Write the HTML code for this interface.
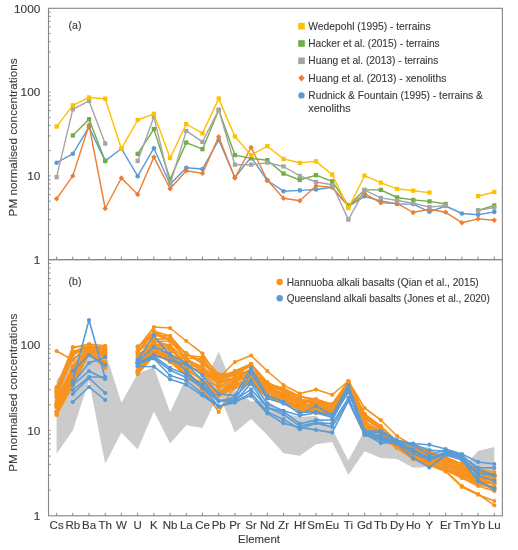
<!DOCTYPE html>
<html><head><meta charset="utf-8"><style>
html,body{margin:0;padding:0;background:#fff;}
svg{display:block;will-change:transform;}
text{font-family:"Liberation Sans",sans-serif;fill:#3a3a3a;stroke:#3a3a3a;stroke-width:0.12px;}
</style></head><body>
<svg width="518" height="550" viewBox="0 0 518 550">
<rect width="518" height="550" fill="#fff"/>
<rect x="48.5" y="8.3" width="453.88" height="251.35" fill="none" stroke="#858585" stroke-width="1.1"/>
<line x1="48.5" y1="234.43" x2="50.7" y2="234.43" stroke="#858585" stroke-width="0.9"/>
<line x1="48.5" y1="219.68" x2="50.7" y2="219.68" stroke="#858585" stroke-width="0.9"/>
<line x1="48.5" y1="209.21" x2="50.7" y2="209.21" stroke="#858585" stroke-width="0.9"/>
<line x1="48.5" y1="201.09" x2="50.7" y2="201.09" stroke="#858585" stroke-width="0.9"/>
<line x1="48.5" y1="194.45" x2="50.7" y2="194.45" stroke="#858585" stroke-width="0.9"/>
<line x1="48.5" y1="188.84" x2="50.7" y2="188.84" stroke="#858585" stroke-width="0.9"/>
<line x1="48.5" y1="183.99" x2="50.7" y2="183.99" stroke="#858585" stroke-width="0.9"/>
<line x1="48.5" y1="179.70" x2="50.7" y2="179.70" stroke="#858585" stroke-width="0.9"/>
<line x1="48.5" y1="175.87" x2="50.7" y2="175.87" stroke="#858585" stroke-width="0.9"/>
<line x1="48.5" y1="150.65" x2="50.7" y2="150.65" stroke="#858585" stroke-width="0.9"/>
<line x1="48.5" y1="135.89" x2="50.7" y2="135.89" stroke="#858585" stroke-width="0.9"/>
<line x1="48.5" y1="125.42" x2="50.7" y2="125.42" stroke="#858585" stroke-width="0.9"/>
<line x1="48.5" y1="117.30" x2="50.7" y2="117.30" stroke="#858585" stroke-width="0.9"/>
<line x1="48.5" y1="110.67" x2="50.7" y2="110.67" stroke="#858585" stroke-width="0.9"/>
<line x1="48.5" y1="105.06" x2="50.7" y2="105.06" stroke="#858585" stroke-width="0.9"/>
<line x1="48.5" y1="100.20" x2="50.7" y2="100.20" stroke="#858585" stroke-width="0.9"/>
<line x1="48.5" y1="95.92" x2="50.7" y2="95.92" stroke="#858585" stroke-width="0.9"/>
<line x1="48.5" y1="92.08" x2="50.7" y2="92.08" stroke="#858585" stroke-width="0.9"/>
<line x1="48.5" y1="66.86" x2="50.7" y2="66.86" stroke="#858585" stroke-width="0.9"/>
<line x1="48.5" y1="52.11" x2="50.7" y2="52.11" stroke="#858585" stroke-width="0.9"/>
<line x1="48.5" y1="41.64" x2="50.7" y2="41.64" stroke="#858585" stroke-width="0.9"/>
<line x1="48.5" y1="33.52" x2="50.7" y2="33.52" stroke="#858585" stroke-width="0.9"/>
<line x1="48.5" y1="26.89" x2="50.7" y2="26.89" stroke="#858585" stroke-width="0.9"/>
<line x1="48.5" y1="21.28" x2="50.7" y2="21.28" stroke="#858585" stroke-width="0.9"/>
<line x1="48.5" y1="16.42" x2="50.7" y2="16.42" stroke="#858585" stroke-width="0.9"/>
<line x1="48.5" y1="12.13" x2="50.7" y2="12.13" stroke="#858585" stroke-width="0.9"/>
<line x1="56.61" y1="259.65" x2="56.61" y2="256.65" stroke="#858585" stroke-width="1"/>
<line x1="72.81" y1="259.65" x2="72.81" y2="256.65" stroke="#858585" stroke-width="1"/>
<line x1="89.03" y1="259.65" x2="89.03" y2="256.65" stroke="#858585" stroke-width="1"/>
<line x1="105.23" y1="259.65" x2="105.23" y2="256.65" stroke="#858585" stroke-width="1"/>
<line x1="121.45" y1="259.65" x2="121.45" y2="256.65" stroke="#858585" stroke-width="1"/>
<line x1="137.66" y1="259.65" x2="137.66" y2="256.65" stroke="#858585" stroke-width="1"/>
<line x1="153.87" y1="259.65" x2="153.87" y2="256.65" stroke="#858585" stroke-width="1"/>
<line x1="170.07" y1="259.65" x2="170.07" y2="256.65" stroke="#858585" stroke-width="1"/>
<line x1="186.28" y1="259.65" x2="186.28" y2="256.65" stroke="#858585" stroke-width="1"/>
<line x1="202.50" y1="259.65" x2="202.50" y2="256.65" stroke="#858585" stroke-width="1"/>
<line x1="218.71" y1="259.65" x2="218.71" y2="256.65" stroke="#858585" stroke-width="1"/>
<line x1="234.92" y1="259.65" x2="234.92" y2="256.65" stroke="#858585" stroke-width="1"/>
<line x1="251.12" y1="259.65" x2="251.12" y2="256.65" stroke="#858585" stroke-width="1"/>
<line x1="267.34" y1="259.65" x2="267.34" y2="256.65" stroke="#858585" stroke-width="1"/>
<line x1="283.55" y1="259.65" x2="283.55" y2="256.65" stroke="#858585" stroke-width="1"/>
<line x1="299.75" y1="259.65" x2="299.75" y2="256.65" stroke="#858585" stroke-width="1"/>
<line x1="315.97" y1="259.65" x2="315.97" y2="256.65" stroke="#858585" stroke-width="1"/>
<line x1="332.18" y1="259.65" x2="332.18" y2="256.65" stroke="#858585" stroke-width="1"/>
<line x1="348.38" y1="259.65" x2="348.38" y2="256.65" stroke="#858585" stroke-width="1"/>
<line x1="364.60" y1="259.65" x2="364.60" y2="256.65" stroke="#858585" stroke-width="1"/>
<line x1="380.81" y1="259.65" x2="380.81" y2="256.65" stroke="#858585" stroke-width="1"/>
<line x1="397.02" y1="259.65" x2="397.02" y2="256.65" stroke="#858585" stroke-width="1"/>
<line x1="413.23" y1="259.65" x2="413.23" y2="256.65" stroke="#858585" stroke-width="1"/>
<line x1="429.44" y1="259.65" x2="429.44" y2="256.65" stroke="#858585" stroke-width="1"/>
<line x1="445.65" y1="259.65" x2="445.65" y2="256.65" stroke="#858585" stroke-width="1"/>
<line x1="461.86" y1="259.65" x2="461.86" y2="256.65" stroke="#858585" stroke-width="1"/>
<line x1="478.06" y1="259.65" x2="478.06" y2="256.65" stroke="#858585" stroke-width="1"/>
<line x1="494.28" y1="259.65" x2="494.28" y2="256.65" stroke="#858585" stroke-width="1"/>
<polyline points="56.6,162.7 72.8,153.8 89.0,127.1 105.2,160.9 121.4,148.7 137.7,176.2 153.9,148.2 170.1,184.3 186.3,167.8 202.5,169.0 218.7,139.8 234.9,177.5 251.1,157.1 267.3,180.5 283.5,191.2 299.8,190.4 316.0,189.5 332.2,187.3 348.4,206.4 364.6,196.3 380.8,201.0 397.0,204.0 413.2,204.1 429.4,211.8 445.6,206.0 461.9,213.5 478.1,214.8 494.3,211.9" fill="none" stroke="#5B9BD5" stroke-width="1.4" stroke-linejoin="round"/>
<circle cx="56.6" cy="162.7" r="2.3" fill="#5B9BD5"/>
<circle cx="72.8" cy="153.8" r="2.3" fill="#5B9BD5"/>
<circle cx="89.0" cy="127.1" r="2.3" fill="#5B9BD5"/>
<circle cx="105.2" cy="160.9" r="2.3" fill="#5B9BD5"/>
<circle cx="121.4" cy="148.7" r="2.3" fill="#5B9BD5"/>
<circle cx="137.7" cy="176.2" r="2.3" fill="#5B9BD5"/>
<circle cx="153.9" cy="148.2" r="2.3" fill="#5B9BD5"/>
<circle cx="170.1" cy="184.3" r="2.3" fill="#5B9BD5"/>
<circle cx="186.3" cy="167.8" r="2.3" fill="#5B9BD5"/>
<circle cx="202.5" cy="169.0" r="2.3" fill="#5B9BD5"/>
<circle cx="218.7" cy="139.8" r="2.3" fill="#5B9BD5"/>
<circle cx="234.9" cy="177.5" r="2.3" fill="#5B9BD5"/>
<circle cx="251.1" cy="157.1" r="2.3" fill="#5B9BD5"/>
<circle cx="267.3" cy="180.5" r="2.3" fill="#5B9BD5"/>
<circle cx="283.5" cy="191.2" r="2.3" fill="#5B9BD5"/>
<circle cx="299.8" cy="190.4" r="2.3" fill="#5B9BD5"/>
<circle cx="316.0" cy="189.5" r="2.3" fill="#5B9BD5"/>
<circle cx="332.2" cy="187.3" r="2.3" fill="#5B9BD5"/>
<circle cx="348.4" cy="206.4" r="2.3" fill="#5B9BD5"/>
<circle cx="364.6" cy="196.3" r="2.3" fill="#5B9BD5"/>
<circle cx="380.8" cy="201.0" r="2.3" fill="#5B9BD5"/>
<circle cx="397.0" cy="204.0" r="2.3" fill="#5B9BD5"/>
<circle cx="413.2" cy="204.1" r="2.3" fill="#5B9BD5"/>
<circle cx="429.4" cy="211.8" r="2.3" fill="#5B9BD5"/>
<circle cx="445.6" cy="206.0" r="2.3" fill="#5B9BD5"/>
<circle cx="461.9" cy="213.5" r="2.3" fill="#5B9BD5"/>
<circle cx="478.1" cy="214.8" r="2.3" fill="#5B9BD5"/>
<circle cx="494.3" cy="211.9" r="2.3" fill="#5B9BD5"/>
<polyline points="56.6,198.8 72.8,175.9 89.0,125.0 105.2,208.5 121.4,178.0 137.7,194.5 153.9,157.1 170.1,188.7 186.3,170.8 202.5,173.4 218.7,136.7 234.9,178.0 251.1,147.4 267.3,180.0 283.5,198.3 299.8,200.8 316.0,185.9 332.2,187.3 348.4,206.4 364.6,193.7 380.8,202.9 397.0,203.4 413.2,212.5 429.4,209.2 445.6,212.3 461.9,222.7 478.1,218.9 494.3,220.3" fill="none" stroke="#ED7D31" stroke-width="1.4" stroke-linejoin="round"/>
<path d="M56.6 196.1L59.3 198.8L56.6 201.5L53.9 198.8Z" fill="#ED7D31"/>
<path d="M72.8 173.2L75.5 175.9L72.8 178.6L70.1 175.9Z" fill="#ED7D31"/>
<path d="M89.0 122.3L91.7 125.0L89.0 127.7L86.3 125.0Z" fill="#ED7D31"/>
<path d="M105.2 205.8L107.9 208.5L105.2 211.2L102.5 208.5Z" fill="#ED7D31"/>
<path d="M121.4 175.3L124.1 178.0L121.4 180.7L118.7 178.0Z" fill="#ED7D31"/>
<path d="M137.7 191.8L140.4 194.5L137.7 197.2L135.0 194.5Z" fill="#ED7D31"/>
<path d="M153.9 154.4L156.6 157.1L153.9 159.8L151.2 157.1Z" fill="#ED7D31"/>
<path d="M170.1 186.0L172.8 188.7L170.1 191.4L167.4 188.7Z" fill="#ED7D31"/>
<path d="M186.3 168.1L189.0 170.8L186.3 173.5L183.6 170.8Z" fill="#ED7D31"/>
<path d="M202.5 170.7L205.2 173.4L202.5 176.1L199.8 173.4Z" fill="#ED7D31"/>
<path d="M218.7 134.0L221.4 136.7L218.7 139.4L216.0 136.7Z" fill="#ED7D31"/>
<path d="M234.9 175.3L237.6 178.0L234.9 180.7L232.2 178.0Z" fill="#ED7D31"/>
<path d="M251.1 144.7L253.8 147.4L251.1 150.1L248.4 147.4Z" fill="#ED7D31"/>
<path d="M267.3 177.3L270.0 180.0L267.3 182.7L264.6 180.0Z" fill="#ED7D31"/>
<path d="M283.5 195.6L286.2 198.3L283.5 201.0L280.8 198.3Z" fill="#ED7D31"/>
<path d="M299.8 198.1L302.5 200.8L299.8 203.5L297.1 200.8Z" fill="#ED7D31"/>
<path d="M316.0 183.2L318.7 185.9L316.0 188.6L313.3 185.9Z" fill="#ED7D31"/>
<path d="M332.2 184.6L334.9 187.3L332.2 190.0L329.5 187.3Z" fill="#ED7D31"/>
<path d="M348.4 203.7L351.1 206.4L348.4 209.1L345.7 206.4Z" fill="#ED7D31"/>
<path d="M364.6 191.0L367.3 193.7L364.6 196.4L361.9 193.7Z" fill="#ED7D31"/>
<path d="M380.8 200.2L383.5 202.9L380.8 205.6L378.1 202.9Z" fill="#ED7D31"/>
<path d="M397.0 200.7L399.7 203.4L397.0 206.1L394.3 203.4Z" fill="#ED7D31"/>
<path d="M413.2 209.8L415.9 212.5L413.2 215.2L410.5 212.5Z" fill="#ED7D31"/>
<path d="M429.4 206.5L432.1 209.2L429.4 211.9L426.7 209.2Z" fill="#ED7D31"/>
<path d="M445.6 209.6L448.3 212.3L445.6 215.0L442.9 212.3Z" fill="#ED7D31"/>
<path d="M461.9 220.0L464.6 222.7L461.9 225.4L459.2 222.7Z" fill="#ED7D31"/>
<path d="M478.1 216.2L480.8 218.9L478.1 221.6L475.4 218.9Z" fill="#ED7D31"/>
<path d="M494.3 217.6L497.0 220.3L494.3 223.0L491.6 220.3Z" fill="#ED7D31"/>
<polyline points="72.8,135.5 89.0,119.3 105.2,160.9" fill="none" stroke="#70AD47" stroke-width="1.4" stroke-linejoin="round"/>
<polyline points="137.7,153.8 153.9,129.1 170.1,179.2 186.3,142.6 202.5,149.2 218.7,110.0 234.9,155.1 251.1,158.4 267.3,160.2 283.5,173.6 299.8,180.0 316.0,175.2 332.2,181.4 348.4,205.4 364.6,189.9 380.8,189.9 397.0,197.5 413.2,199.9 429.4,201.4 445.6,204.0" fill="none" stroke="#70AD47" stroke-width="1.4" stroke-linejoin="round"/>
<polyline points="478.1,210.3 494.3,205.5" fill="none" stroke="#70AD47" stroke-width="1.4" stroke-linejoin="round"/>
<rect x="70.7" y="133.3" width="4.3" height="4.3" fill="#70AD47"/>
<rect x="86.9" y="117.1" width="4.3" height="4.3" fill="#70AD47"/>
<rect x="103.1" y="158.8" width="4.3" height="4.3" fill="#70AD47"/>
<rect x="135.5" y="151.7" width="4.3" height="4.3" fill="#70AD47"/>
<rect x="151.7" y="126.9" width="4.3" height="4.3" fill="#70AD47"/>
<rect x="167.9" y="177.0" width="4.3" height="4.3" fill="#70AD47"/>
<rect x="184.1" y="140.4" width="4.3" height="4.3" fill="#70AD47"/>
<rect x="200.3" y="147.0" width="4.3" height="4.3" fill="#70AD47"/>
<rect x="216.6" y="107.8" width="4.3" height="4.3" fill="#70AD47"/>
<rect x="232.8" y="152.9" width="4.3" height="4.3" fill="#70AD47"/>
<rect x="249.0" y="156.2" width="4.3" height="4.3" fill="#70AD47"/>
<rect x="265.2" y="158.0" width="4.3" height="4.3" fill="#70AD47"/>
<rect x="281.4" y="171.4" width="4.3" height="4.3" fill="#70AD47"/>
<rect x="297.6" y="177.8" width="4.3" height="4.3" fill="#70AD47"/>
<rect x="313.8" y="173.0" width="4.3" height="4.3" fill="#70AD47"/>
<rect x="330.0" y="179.2" width="4.3" height="4.3" fill="#70AD47"/>
<rect x="346.2" y="203.2" width="4.3" height="4.3" fill="#70AD47"/>
<rect x="362.4" y="187.8" width="4.3" height="4.3" fill="#70AD47"/>
<rect x="378.7" y="187.8" width="4.3" height="4.3" fill="#70AD47"/>
<rect x="394.9" y="195.3" width="4.3" height="4.3" fill="#70AD47"/>
<rect x="411.1" y="197.8" width="4.3" height="4.3" fill="#70AD47"/>
<rect x="427.3" y="199.2" width="4.3" height="4.3" fill="#70AD47"/>
<rect x="443.5" y="201.8" width="4.3" height="4.3" fill="#70AD47"/>
<rect x="475.9" y="208.2" width="4.3" height="4.3" fill="#70AD47"/>
<rect x="492.1" y="203.3" width="4.3" height="4.3" fill="#70AD47"/>
<polyline points="56.6,177.2 72.8,109.3 89.0,100.9 105.2,143.6" fill="none" stroke="#A5A5A5" stroke-width="1.4" stroke-linejoin="round"/>
<polyline points="137.7,160.9 153.9,116.9 170.1,184.3 186.3,130.9 202.5,141.8 218.7,109.8 234.9,164.7 251.1,164.7 267.3,162.7 283.5,166.5 299.8,175.9 316.0,182.0 332.2,184.8 348.4,219.6 364.6,190.1 380.8,197.9 397.0,200.5 413.2,203.3 429.4,207.1 445.6,205.5" fill="none" stroke="#A5A5A5" stroke-width="1.4" stroke-linejoin="round"/>
<polyline points="478.1,210.3 494.3,207.6" fill="none" stroke="#A5A5A5" stroke-width="1.4" stroke-linejoin="round"/>
<rect x="54.5" y="175.0" width="4.3" height="4.3" fill="#A5A5A5"/>
<rect x="70.7" y="107.1" width="4.3" height="4.3" fill="#A5A5A5"/>
<rect x="86.9" y="98.8" width="4.3" height="4.3" fill="#A5A5A5"/>
<rect x="103.1" y="141.4" width="4.3" height="4.3" fill="#A5A5A5"/>
<rect x="135.5" y="158.8" width="4.3" height="4.3" fill="#A5A5A5"/>
<rect x="151.7" y="114.8" width="4.3" height="4.3" fill="#A5A5A5"/>
<rect x="167.9" y="182.2" width="4.3" height="4.3" fill="#A5A5A5"/>
<rect x="184.1" y="128.8" width="4.3" height="4.3" fill="#A5A5A5"/>
<rect x="200.3" y="139.7" width="4.3" height="4.3" fill="#A5A5A5"/>
<rect x="216.6" y="107.6" width="4.3" height="4.3" fill="#A5A5A5"/>
<rect x="232.8" y="162.5" width="4.3" height="4.3" fill="#A5A5A5"/>
<rect x="249.0" y="162.5" width="4.3" height="4.3" fill="#A5A5A5"/>
<rect x="265.2" y="160.5" width="4.3" height="4.3" fill="#A5A5A5"/>
<rect x="281.4" y="164.3" width="4.3" height="4.3" fill="#A5A5A5"/>
<rect x="297.6" y="173.8" width="4.3" height="4.3" fill="#A5A5A5"/>
<rect x="313.8" y="179.8" width="4.3" height="4.3" fill="#A5A5A5"/>
<rect x="330.0" y="182.7" width="4.3" height="4.3" fill="#A5A5A5"/>
<rect x="346.2" y="217.4" width="4.3" height="4.3" fill="#A5A5A5"/>
<rect x="362.4" y="187.9" width="4.3" height="4.3" fill="#A5A5A5"/>
<rect x="378.7" y="195.8" width="4.3" height="4.3" fill="#A5A5A5"/>
<rect x="394.9" y="198.3" width="4.3" height="4.3" fill="#A5A5A5"/>
<rect x="411.1" y="201.2" width="4.3" height="4.3" fill="#A5A5A5"/>
<rect x="427.3" y="204.9" width="4.3" height="4.3" fill="#A5A5A5"/>
<rect x="443.5" y="203.3" width="4.3" height="4.3" fill="#A5A5A5"/>
<rect x="475.9" y="208.2" width="4.3" height="4.3" fill="#A5A5A5"/>
<rect x="492.1" y="205.4" width="4.3" height="4.3" fill="#A5A5A5"/>
<polyline points="56.6,126.6 72.8,105.4 89.0,97.5 105.2,98.7 121.4,148.7 137.7,120.0 153.9,113.8 170.1,158.1 186.3,124.0 202.5,133.4 218.7,98.6 234.9,136.5 251.1,155.1 267.3,146.2 283.5,158.9 299.8,162.8 316.0,161.4 332.2,174.6 348.4,208.1 364.6,175.7 380.8,182.7 397.0,188.8 413.2,190.7 429.4,192.6" fill="none" stroke="#FFC000" stroke-width="1.4" stroke-linejoin="round"/>
<polyline points="478.1,196.2 494.3,192.0" fill="none" stroke="#FFC000" stroke-width="1.4" stroke-linejoin="round"/>
<rect x="54.5" y="124.4" width="4.3" height="4.3" fill="#FFC000"/>
<rect x="70.7" y="103.2" width="4.3" height="4.3" fill="#FFC000"/>
<rect x="86.9" y="95.3" width="4.3" height="4.3" fill="#FFC000"/>
<rect x="103.1" y="96.5" width="4.3" height="4.3" fill="#FFC000"/>
<rect x="119.3" y="146.5" width="4.3" height="4.3" fill="#FFC000"/>
<rect x="135.5" y="117.8" width="4.3" height="4.3" fill="#FFC000"/>
<rect x="151.7" y="111.6" width="4.3" height="4.3" fill="#FFC000"/>
<rect x="167.9" y="155.9" width="4.3" height="4.3" fill="#FFC000"/>
<rect x="184.1" y="121.8" width="4.3" height="4.3" fill="#FFC000"/>
<rect x="200.3" y="131.2" width="4.3" height="4.3" fill="#FFC000"/>
<rect x="216.6" y="96.4" width="4.3" height="4.3" fill="#FFC000"/>
<rect x="232.8" y="134.3" width="4.3" height="4.3" fill="#FFC000"/>
<rect x="249.0" y="152.9" width="4.3" height="4.3" fill="#FFC000"/>
<rect x="265.2" y="144.0" width="4.3" height="4.3" fill="#FFC000"/>
<rect x="281.4" y="156.8" width="4.3" height="4.3" fill="#FFC000"/>
<rect x="297.6" y="160.7" width="4.3" height="4.3" fill="#FFC000"/>
<rect x="313.8" y="159.2" width="4.3" height="4.3" fill="#FFC000"/>
<rect x="330.0" y="172.4" width="4.3" height="4.3" fill="#FFC000"/>
<rect x="346.2" y="205.9" width="4.3" height="4.3" fill="#FFC000"/>
<rect x="362.4" y="173.5" width="4.3" height="4.3" fill="#FFC000"/>
<rect x="378.7" y="180.5" width="4.3" height="4.3" fill="#FFC000"/>
<rect x="394.9" y="186.7" width="4.3" height="4.3" fill="#FFC000"/>
<rect x="411.1" y="188.5" width="4.3" height="4.3" fill="#FFC000"/>
<rect x="427.3" y="190.4" width="4.3" height="4.3" fill="#FFC000"/>
<rect x="475.9" y="194.0" width="4.3" height="4.3" fill="#FFC000"/>
<rect x="492.1" y="189.8" width="4.3" height="4.3" fill="#FFC000"/>
<rect x="48.5" y="259.65" width="453.88" height="256.15" fill="none" stroke="#858585" stroke-width="1.1"/>
<line x1="48.5" y1="490.10" x2="50.7" y2="490.10" stroke="#858585" stroke-width="0.9"/>
<line x1="48.5" y1="475.06" x2="50.7" y2="475.06" stroke="#858585" stroke-width="0.9"/>
<line x1="48.5" y1="464.39" x2="50.7" y2="464.39" stroke="#858585" stroke-width="0.9"/>
<line x1="48.5" y1="456.12" x2="50.7" y2="456.12" stroke="#858585" stroke-width="0.9"/>
<line x1="48.5" y1="449.36" x2="50.7" y2="449.36" stroke="#858585" stroke-width="0.9"/>
<line x1="48.5" y1="443.64" x2="50.7" y2="443.64" stroke="#858585" stroke-width="0.9"/>
<line x1="48.5" y1="438.69" x2="50.7" y2="438.69" stroke="#858585" stroke-width="0.9"/>
<line x1="48.5" y1="434.32" x2="50.7" y2="434.32" stroke="#858585" stroke-width="0.9"/>
<line x1="48.5" y1="430.42" x2="50.7" y2="430.42" stroke="#858585" stroke-width="0.9"/>
<line x1="48.5" y1="404.71" x2="50.7" y2="404.71" stroke="#858585" stroke-width="0.9"/>
<line x1="48.5" y1="389.68" x2="50.7" y2="389.68" stroke="#858585" stroke-width="0.9"/>
<line x1="48.5" y1="379.01" x2="50.7" y2="379.01" stroke="#858585" stroke-width="0.9"/>
<line x1="48.5" y1="370.74" x2="50.7" y2="370.74" stroke="#858585" stroke-width="0.9"/>
<line x1="48.5" y1="363.98" x2="50.7" y2="363.98" stroke="#858585" stroke-width="0.9"/>
<line x1="48.5" y1="358.26" x2="50.7" y2="358.26" stroke="#858585" stroke-width="0.9"/>
<line x1="48.5" y1="353.31" x2="50.7" y2="353.31" stroke="#858585" stroke-width="0.9"/>
<line x1="48.5" y1="348.94" x2="50.7" y2="348.94" stroke="#858585" stroke-width="0.9"/>
<line x1="48.5" y1="345.03" x2="50.7" y2="345.03" stroke="#858585" stroke-width="0.9"/>
<line x1="48.5" y1="319.33" x2="50.7" y2="319.33" stroke="#858585" stroke-width="0.9"/>
<line x1="48.5" y1="304.30" x2="50.7" y2="304.30" stroke="#858585" stroke-width="0.9"/>
<line x1="48.5" y1="293.63" x2="50.7" y2="293.63" stroke="#858585" stroke-width="0.9"/>
<line x1="48.5" y1="285.35" x2="50.7" y2="285.35" stroke="#858585" stroke-width="0.9"/>
<line x1="48.5" y1="278.59" x2="50.7" y2="278.59" stroke="#858585" stroke-width="0.9"/>
<line x1="48.5" y1="272.88" x2="50.7" y2="272.88" stroke="#858585" stroke-width="0.9"/>
<line x1="48.5" y1="267.92" x2="50.7" y2="267.92" stroke="#858585" stroke-width="0.9"/>
<line x1="48.5" y1="263.56" x2="50.7" y2="263.56" stroke="#858585" stroke-width="0.9"/>
<line x1="56.61" y1="515.8" x2="56.61" y2="512.8" stroke="#858585" stroke-width="1"/>
<line x1="72.81" y1="515.8" x2="72.81" y2="512.8" stroke="#858585" stroke-width="1"/>
<line x1="89.03" y1="515.8" x2="89.03" y2="512.8" stroke="#858585" stroke-width="1"/>
<line x1="105.23" y1="515.8" x2="105.23" y2="512.8" stroke="#858585" stroke-width="1"/>
<line x1="121.45" y1="515.8" x2="121.45" y2="512.8" stroke="#858585" stroke-width="1"/>
<line x1="137.66" y1="515.8" x2="137.66" y2="512.8" stroke="#858585" stroke-width="1"/>
<line x1="153.87" y1="515.8" x2="153.87" y2="512.8" stroke="#858585" stroke-width="1"/>
<line x1="170.07" y1="515.8" x2="170.07" y2="512.8" stroke="#858585" stroke-width="1"/>
<line x1="186.28" y1="515.8" x2="186.28" y2="512.8" stroke="#858585" stroke-width="1"/>
<line x1="202.50" y1="515.8" x2="202.50" y2="512.8" stroke="#858585" stroke-width="1"/>
<line x1="218.71" y1="515.8" x2="218.71" y2="512.8" stroke="#858585" stroke-width="1"/>
<line x1="234.92" y1="515.8" x2="234.92" y2="512.8" stroke="#858585" stroke-width="1"/>
<line x1="251.12" y1="515.8" x2="251.12" y2="512.8" stroke="#858585" stroke-width="1"/>
<line x1="267.34" y1="515.8" x2="267.34" y2="512.8" stroke="#858585" stroke-width="1"/>
<line x1="283.55" y1="515.8" x2="283.55" y2="512.8" stroke="#858585" stroke-width="1"/>
<line x1="299.75" y1="515.8" x2="299.75" y2="512.8" stroke="#858585" stroke-width="1"/>
<line x1="315.97" y1="515.8" x2="315.97" y2="512.8" stroke="#858585" stroke-width="1"/>
<line x1="332.18" y1="515.8" x2="332.18" y2="512.8" stroke="#858585" stroke-width="1"/>
<line x1="348.38" y1="515.8" x2="348.38" y2="512.8" stroke="#858585" stroke-width="1"/>
<line x1="364.60" y1="515.8" x2="364.60" y2="512.8" stroke="#858585" stroke-width="1"/>
<line x1="380.81" y1="515.8" x2="380.81" y2="512.8" stroke="#858585" stroke-width="1"/>
<line x1="397.02" y1="515.8" x2="397.02" y2="512.8" stroke="#858585" stroke-width="1"/>
<line x1="413.23" y1="515.8" x2="413.23" y2="512.8" stroke="#858585" stroke-width="1"/>
<line x1="429.44" y1="515.8" x2="429.44" y2="512.8" stroke="#858585" stroke-width="1"/>
<line x1="445.65" y1="515.8" x2="445.65" y2="512.8" stroke="#858585" stroke-width="1"/>
<line x1="461.86" y1="515.8" x2="461.86" y2="512.8" stroke="#858585" stroke-width="1"/>
<line x1="478.06" y1="515.8" x2="478.06" y2="512.8" stroke="#858585" stroke-width="1"/>
<line x1="494.28" y1="515.8" x2="494.28" y2="512.8" stroke="#858585" stroke-width="1"/>
<polygon points="56.6,380.2 72.8,358.6 89.0,350.6 105.2,351.8 121.4,402.7 137.7,373.5 153.9,367.2 170.1,412.3 186.3,377.6 202.5,387.1 218.7,351.7 234.9,390.3 251.1,401.4 267.3,400.2 283.5,413.1 299.8,417.1 316.0,415.7 332.2,429.1 348.4,460.5 364.6,430.2 380.8,437.4 397.0,443.6 413.2,445.5 429.4,447.5 445.6,459.1 461.9,468.8 478.1,451.1 494.3,446.9 494.3,475.7 478.1,474.3 461.9,478.1 445.6,467.5 429.4,467.0 413.2,467.7 397.0,459.1 380.8,458.0 364.6,451.2 348.4,475.0 332.2,442.1 316.0,444.3 299.8,455.8 283.5,453.3 267.3,435.1 251.1,419.0 234.9,432.6 218.7,393.7 202.5,427.9 186.3,425.3 170.1,443.5 153.9,411.3 137.7,449.4 121.4,432.6 105.2,463.7 89.0,380.7 72.8,430.5 56.6,453.8" fill="#CBCBCB"/>
<polyline points="56.6,387.0 72.8,347.6 89.0,344.0 105.2,345.8" fill="none" stroke="#F7931E" stroke-width="1.6" stroke-linejoin="round"/>
<polyline points="137.7,347.1 153.9,331.0 170.1,336.0 186.3,355.5 202.5,357.0 218.7,374.0 234.9,373.7 251.1,364.0 267.3,383.7 283.5,388.0 299.8,396.7 316.0,399.0 332.2,404.4 348.4,382.3 364.6,414.1 380.8,426.8 397.0,441.4 413.2,446.0 429.4,452.2 445.6,457.4 461.9,464.0 478.1,469.0 494.3,474.2" fill="none" stroke="#F7931E" stroke-width="1.6" stroke-linejoin="round"/>
<circle cx="56.6" cy="387.0" r="2.1" fill="#F7931E"/>
<circle cx="72.8" cy="347.6" r="2.1" fill="#F7931E"/>
<circle cx="89.0" cy="344.0" r="2.1" fill="#F7931E"/>
<circle cx="105.2" cy="345.8" r="2.1" fill="#F7931E"/>
<circle cx="137.7" cy="347.1" r="2.1" fill="#F7931E"/>
<circle cx="153.9" cy="331.0" r="2.1" fill="#F7931E"/>
<circle cx="170.1" cy="336.0" r="2.1" fill="#F7931E"/>
<circle cx="186.3" cy="355.5" r="2.1" fill="#F7931E"/>
<circle cx="202.5" cy="357.0" r="2.1" fill="#F7931E"/>
<circle cx="218.7" cy="374.0" r="2.1" fill="#F7931E"/>
<circle cx="234.9" cy="373.7" r="2.1" fill="#F7931E"/>
<circle cx="251.1" cy="364.0" r="2.1" fill="#F7931E"/>
<circle cx="267.3" cy="383.7" r="2.1" fill="#F7931E"/>
<circle cx="283.5" cy="388.0" r="2.1" fill="#F7931E"/>
<circle cx="299.8" cy="396.7" r="2.1" fill="#F7931E"/>
<circle cx="316.0" cy="399.0" r="2.1" fill="#F7931E"/>
<circle cx="332.2" cy="404.4" r="2.1" fill="#F7931E"/>
<circle cx="348.4" cy="382.3" r="2.1" fill="#F7931E"/>
<circle cx="364.6" cy="414.1" r="2.1" fill="#F7931E"/>
<circle cx="380.8" cy="426.8" r="2.1" fill="#F7931E"/>
<circle cx="397.0" cy="441.4" r="2.1" fill="#F7931E"/>
<circle cx="413.2" cy="446.0" r="2.1" fill="#F7931E"/>
<circle cx="429.4" cy="452.2" r="2.1" fill="#F7931E"/>
<circle cx="445.6" cy="457.4" r="2.1" fill="#F7931E"/>
<circle cx="461.9" cy="464.0" r="2.1" fill="#F7931E"/>
<circle cx="478.1" cy="469.0" r="2.1" fill="#F7931E"/>
<circle cx="494.3" cy="474.2" r="2.1" fill="#F7931E"/>
<polyline points="56.6,388.2 72.8,351.7 89.0,345.7 105.2,347.7" fill="none" stroke="#F7931E" stroke-width="1.6" stroke-linejoin="round"/>
<polyline points="137.7,351.2 153.9,331.4 170.1,339.8 186.3,353.7 202.5,363.2 218.7,377.8 234.9,371.0 251.1,364.0 267.3,382.0 283.5,390.6 299.8,396.4 316.0,400.1 332.2,404.0 348.4,381.6 364.6,414.2 380.8,426.0 397.0,441.5 413.2,447.0 429.4,453.5 445.6,458.5 461.9,466.6 478.1,471.8 494.3,475.9" fill="none" stroke="#F7931E" stroke-width="1.6" stroke-linejoin="round"/>
<circle cx="56.6" cy="388.2" r="2.1" fill="#F7931E"/>
<circle cx="72.8" cy="351.7" r="2.1" fill="#F7931E"/>
<circle cx="89.0" cy="345.7" r="2.1" fill="#F7931E"/>
<circle cx="105.2" cy="347.7" r="2.1" fill="#F7931E"/>
<circle cx="137.7" cy="351.2" r="2.1" fill="#F7931E"/>
<circle cx="153.9" cy="331.4" r="2.1" fill="#F7931E"/>
<circle cx="170.1" cy="339.8" r="2.1" fill="#F7931E"/>
<circle cx="186.3" cy="353.7" r="2.1" fill="#F7931E"/>
<circle cx="202.5" cy="363.2" r="2.1" fill="#F7931E"/>
<circle cx="218.7" cy="377.8" r="2.1" fill="#F7931E"/>
<circle cx="234.9" cy="371.0" r="2.1" fill="#F7931E"/>
<circle cx="251.1" cy="364.0" r="2.1" fill="#F7931E"/>
<circle cx="267.3" cy="382.0" r="2.1" fill="#F7931E"/>
<circle cx="283.5" cy="390.6" r="2.1" fill="#F7931E"/>
<circle cx="299.8" cy="396.4" r="2.1" fill="#F7931E"/>
<circle cx="316.0" cy="400.1" r="2.1" fill="#F7931E"/>
<circle cx="332.2" cy="404.0" r="2.1" fill="#F7931E"/>
<circle cx="348.4" cy="381.6" r="2.1" fill="#F7931E"/>
<circle cx="364.6" cy="414.2" r="2.1" fill="#F7931E"/>
<circle cx="380.8" cy="426.0" r="2.1" fill="#F7931E"/>
<circle cx="397.0" cy="441.5" r="2.1" fill="#F7931E"/>
<circle cx="413.2" cy="447.0" r="2.1" fill="#F7931E"/>
<circle cx="429.4" cy="453.5" r="2.1" fill="#F7931E"/>
<circle cx="445.6" cy="458.5" r="2.1" fill="#F7931E"/>
<circle cx="461.9" cy="466.6" r="2.1" fill="#F7931E"/>
<circle cx="478.1" cy="471.8" r="2.1" fill="#F7931E"/>
<circle cx="494.3" cy="475.9" r="2.1" fill="#F7931E"/>
<polyline points="56.6,391.3 72.8,347.0 89.0,346.2 105.2,350.7" fill="none" stroke="#F7931E" stroke-width="1.6" stroke-linejoin="round"/>
<polyline points="137.7,352.4 153.9,334.1 170.1,340.4 186.3,353.2 202.5,363.8 218.7,376.7 234.9,371.5 251.1,364.0 267.3,385.4 283.5,391.3 299.8,396.0 316.0,401.4 332.2,404.7 348.4,381.0 364.6,414.6 380.8,428.0 397.0,442.5 413.2,446.0 429.4,452.9 445.6,457.0 461.9,466.4 478.1,469.8 494.3,476.2" fill="none" stroke="#F7931E" stroke-width="1.6" stroke-linejoin="round"/>
<circle cx="56.6" cy="391.3" r="2.1" fill="#F7931E"/>
<circle cx="72.8" cy="347.0" r="2.1" fill="#F7931E"/>
<circle cx="89.0" cy="346.2" r="2.1" fill="#F7931E"/>
<circle cx="105.2" cy="350.7" r="2.1" fill="#F7931E"/>
<circle cx="137.7" cy="352.4" r="2.1" fill="#F7931E"/>
<circle cx="153.9" cy="334.1" r="2.1" fill="#F7931E"/>
<circle cx="170.1" cy="340.4" r="2.1" fill="#F7931E"/>
<circle cx="186.3" cy="353.2" r="2.1" fill="#F7931E"/>
<circle cx="202.5" cy="363.8" r="2.1" fill="#F7931E"/>
<circle cx="218.7" cy="376.7" r="2.1" fill="#F7931E"/>
<circle cx="234.9" cy="371.5" r="2.1" fill="#F7931E"/>
<circle cx="251.1" cy="364.0" r="2.1" fill="#F7931E"/>
<circle cx="267.3" cy="385.4" r="2.1" fill="#F7931E"/>
<circle cx="283.5" cy="391.3" r="2.1" fill="#F7931E"/>
<circle cx="299.8" cy="396.0" r="2.1" fill="#F7931E"/>
<circle cx="316.0" cy="401.4" r="2.1" fill="#F7931E"/>
<circle cx="332.2" cy="404.7" r="2.1" fill="#F7931E"/>
<circle cx="348.4" cy="381.0" r="2.1" fill="#F7931E"/>
<circle cx="364.6" cy="414.6" r="2.1" fill="#F7931E"/>
<circle cx="380.8" cy="428.0" r="2.1" fill="#F7931E"/>
<circle cx="397.0" cy="442.5" r="2.1" fill="#F7931E"/>
<circle cx="413.2" cy="446.0" r="2.1" fill="#F7931E"/>
<circle cx="429.4" cy="452.9" r="2.1" fill="#F7931E"/>
<circle cx="445.6" cy="457.0" r="2.1" fill="#F7931E"/>
<circle cx="461.9" cy="466.4" r="2.1" fill="#F7931E"/>
<circle cx="478.1" cy="469.8" r="2.1" fill="#F7931E"/>
<circle cx="494.3" cy="476.2" r="2.1" fill="#F7931E"/>
<polyline points="56.6,395.5 72.8,352.9 89.0,347.1 105.2,347.0" fill="none" stroke="#F7931E" stroke-width="1.6" stroke-linejoin="round"/>
<polyline points="137.7,346.4 153.9,335.5 170.1,336.0 186.3,354.2 202.5,361.0 218.7,378.1 234.9,371.7 251.1,364.1 267.3,386.3 283.5,389.2 299.8,400.5 316.0,402.3 332.2,405.1 348.4,382.5 364.6,416.7 380.8,428.2 397.0,442.3 413.2,448.2 429.4,453.6 445.6,461.1 461.9,466.1 478.1,471.2 494.3,476.2" fill="none" stroke="#F7931E" stroke-width="1.6" stroke-linejoin="round"/>
<circle cx="56.6" cy="395.5" r="2.1" fill="#F7931E"/>
<circle cx="72.8" cy="352.9" r="2.1" fill="#F7931E"/>
<circle cx="89.0" cy="347.1" r="2.1" fill="#F7931E"/>
<circle cx="105.2" cy="347.0" r="2.1" fill="#F7931E"/>
<circle cx="137.7" cy="346.4" r="2.1" fill="#F7931E"/>
<circle cx="153.9" cy="335.5" r="2.1" fill="#F7931E"/>
<circle cx="170.1" cy="336.0" r="2.1" fill="#F7931E"/>
<circle cx="186.3" cy="354.2" r="2.1" fill="#F7931E"/>
<circle cx="202.5" cy="361.0" r="2.1" fill="#F7931E"/>
<circle cx="218.7" cy="378.1" r="2.1" fill="#F7931E"/>
<circle cx="234.9" cy="371.7" r="2.1" fill="#F7931E"/>
<circle cx="251.1" cy="364.1" r="2.1" fill="#F7931E"/>
<circle cx="267.3" cy="386.3" r="2.1" fill="#F7931E"/>
<circle cx="283.5" cy="389.2" r="2.1" fill="#F7931E"/>
<circle cx="299.8" cy="400.5" r="2.1" fill="#F7931E"/>
<circle cx="316.0" cy="402.3" r="2.1" fill="#F7931E"/>
<circle cx="332.2" cy="405.1" r="2.1" fill="#F7931E"/>
<circle cx="348.4" cy="382.5" r="2.1" fill="#F7931E"/>
<circle cx="364.6" cy="416.7" r="2.1" fill="#F7931E"/>
<circle cx="380.8" cy="428.2" r="2.1" fill="#F7931E"/>
<circle cx="397.0" cy="442.3" r="2.1" fill="#F7931E"/>
<circle cx="413.2" cy="448.2" r="2.1" fill="#F7931E"/>
<circle cx="429.4" cy="453.6" r="2.1" fill="#F7931E"/>
<circle cx="445.6" cy="461.1" r="2.1" fill="#F7931E"/>
<circle cx="461.9" cy="466.1" r="2.1" fill="#F7931E"/>
<circle cx="478.1" cy="471.2" r="2.1" fill="#F7931E"/>
<circle cx="494.3" cy="476.2" r="2.1" fill="#F7931E"/>
<polyline points="56.6,390.2 72.8,352.3 89.0,347.5 105.2,349.8" fill="none" stroke="#F7931E" stroke-width="1.6" stroke-linejoin="round"/>
<polyline points="137.7,352.0 153.9,332.1 170.1,340.5 186.3,358.2 202.5,358.5 218.7,379.2 234.9,375.1 251.1,365.2 267.3,385.9 283.5,390.5 299.8,399.9 316.0,400.8 332.2,406.7 348.4,384.0 364.6,414.8 380.8,426.7 397.0,442.8 413.2,450.5 429.4,452.7 445.6,459.6 461.9,467.2 478.1,471.4 494.3,475.0" fill="none" stroke="#F7931E" stroke-width="1.6" stroke-linejoin="round"/>
<circle cx="56.6" cy="390.2" r="2.1" fill="#F7931E"/>
<circle cx="72.8" cy="352.3" r="2.1" fill="#F7931E"/>
<circle cx="89.0" cy="347.5" r="2.1" fill="#F7931E"/>
<circle cx="105.2" cy="349.8" r="2.1" fill="#F7931E"/>
<circle cx="137.7" cy="352.0" r="2.1" fill="#F7931E"/>
<circle cx="153.9" cy="332.1" r="2.1" fill="#F7931E"/>
<circle cx="170.1" cy="340.5" r="2.1" fill="#F7931E"/>
<circle cx="186.3" cy="358.2" r="2.1" fill="#F7931E"/>
<circle cx="202.5" cy="358.5" r="2.1" fill="#F7931E"/>
<circle cx="218.7" cy="379.2" r="2.1" fill="#F7931E"/>
<circle cx="234.9" cy="375.1" r="2.1" fill="#F7931E"/>
<circle cx="251.1" cy="365.2" r="2.1" fill="#F7931E"/>
<circle cx="267.3" cy="385.9" r="2.1" fill="#F7931E"/>
<circle cx="283.5" cy="390.5" r="2.1" fill="#F7931E"/>
<circle cx="299.8" cy="399.9" r="2.1" fill="#F7931E"/>
<circle cx="316.0" cy="400.8" r="2.1" fill="#F7931E"/>
<circle cx="332.2" cy="406.7" r="2.1" fill="#F7931E"/>
<circle cx="348.4" cy="384.0" r="2.1" fill="#F7931E"/>
<circle cx="364.6" cy="414.8" r="2.1" fill="#F7931E"/>
<circle cx="380.8" cy="426.7" r="2.1" fill="#F7931E"/>
<circle cx="397.0" cy="442.8" r="2.1" fill="#F7931E"/>
<circle cx="413.2" cy="450.5" r="2.1" fill="#F7931E"/>
<circle cx="429.4" cy="452.7" r="2.1" fill="#F7931E"/>
<circle cx="445.6" cy="459.6" r="2.1" fill="#F7931E"/>
<circle cx="461.9" cy="467.2" r="2.1" fill="#F7931E"/>
<circle cx="478.1" cy="471.4" r="2.1" fill="#F7931E"/>
<circle cx="494.3" cy="475.0" r="2.1" fill="#F7931E"/>
<polyline points="56.6,392.3 72.8,355.1 89.0,346.8 105.2,349.3" fill="none" stroke="#F7931E" stroke-width="1.6" stroke-linejoin="round"/>
<polyline points="137.7,351.9 153.9,339.4 170.1,338.6 186.3,359.3 202.5,367.7 218.7,378.2 234.9,373.7 251.1,370.9 267.3,384.7 283.5,389.9 299.8,399.4 316.0,402.8 332.2,405.2 348.4,383.1 364.6,417.3 380.8,429.9 397.0,442.6 413.2,450.7 429.4,453.0 445.6,459.8 461.9,468.2 478.1,475.3 494.3,476.5" fill="none" stroke="#F7931E" stroke-width="1.6" stroke-linejoin="round"/>
<circle cx="56.6" cy="392.3" r="2.1" fill="#F7931E"/>
<circle cx="72.8" cy="355.1" r="2.1" fill="#F7931E"/>
<circle cx="89.0" cy="346.8" r="2.1" fill="#F7931E"/>
<circle cx="105.2" cy="349.3" r="2.1" fill="#F7931E"/>
<circle cx="137.7" cy="351.9" r="2.1" fill="#F7931E"/>
<circle cx="153.9" cy="339.4" r="2.1" fill="#F7931E"/>
<circle cx="170.1" cy="338.6" r="2.1" fill="#F7931E"/>
<circle cx="186.3" cy="359.3" r="2.1" fill="#F7931E"/>
<circle cx="202.5" cy="367.7" r="2.1" fill="#F7931E"/>
<circle cx="218.7" cy="378.2" r="2.1" fill="#F7931E"/>
<circle cx="234.9" cy="373.7" r="2.1" fill="#F7931E"/>
<circle cx="251.1" cy="370.9" r="2.1" fill="#F7931E"/>
<circle cx="267.3" cy="384.7" r="2.1" fill="#F7931E"/>
<circle cx="283.5" cy="389.9" r="2.1" fill="#F7931E"/>
<circle cx="299.8" cy="399.4" r="2.1" fill="#F7931E"/>
<circle cx="316.0" cy="402.8" r="2.1" fill="#F7931E"/>
<circle cx="332.2" cy="405.2" r="2.1" fill="#F7931E"/>
<circle cx="348.4" cy="383.1" r="2.1" fill="#F7931E"/>
<circle cx="364.6" cy="417.3" r="2.1" fill="#F7931E"/>
<circle cx="380.8" cy="429.9" r="2.1" fill="#F7931E"/>
<circle cx="397.0" cy="442.6" r="2.1" fill="#F7931E"/>
<circle cx="413.2" cy="450.7" r="2.1" fill="#F7931E"/>
<circle cx="429.4" cy="453.0" r="2.1" fill="#F7931E"/>
<circle cx="445.6" cy="459.8" r="2.1" fill="#F7931E"/>
<circle cx="461.9" cy="468.2" r="2.1" fill="#F7931E"/>
<circle cx="478.1" cy="475.3" r="2.1" fill="#F7931E"/>
<circle cx="494.3" cy="476.5" r="2.1" fill="#F7931E"/>
<polyline points="56.6,392.9 72.8,354.0 89.0,347.1 105.2,349.6" fill="none" stroke="#F7931E" stroke-width="1.6" stroke-linejoin="round"/>
<polyline points="137.7,357.1 153.9,341.2 170.1,341.2 186.3,358.3 202.5,370.1 218.7,381.6 234.9,377.8 251.1,369.0 267.3,384.9 283.5,391.0 299.8,401.9 316.0,401.7 332.2,406.5 348.4,384.0 364.6,418.7 380.8,429.0 397.0,444.0 413.2,448.5 429.4,453.0 445.6,463.2 461.9,469.9 478.1,476.7 494.3,477.3" fill="none" stroke="#F7931E" stroke-width="1.6" stroke-linejoin="round"/>
<circle cx="56.6" cy="392.9" r="2.1" fill="#F7931E"/>
<circle cx="72.8" cy="354.0" r="2.1" fill="#F7931E"/>
<circle cx="89.0" cy="347.1" r="2.1" fill="#F7931E"/>
<circle cx="105.2" cy="349.6" r="2.1" fill="#F7931E"/>
<circle cx="137.7" cy="357.1" r="2.1" fill="#F7931E"/>
<circle cx="153.9" cy="341.2" r="2.1" fill="#F7931E"/>
<circle cx="170.1" cy="341.2" r="2.1" fill="#F7931E"/>
<circle cx="186.3" cy="358.3" r="2.1" fill="#F7931E"/>
<circle cx="202.5" cy="370.1" r="2.1" fill="#F7931E"/>
<circle cx="218.7" cy="381.6" r="2.1" fill="#F7931E"/>
<circle cx="234.9" cy="377.8" r="2.1" fill="#F7931E"/>
<circle cx="251.1" cy="369.0" r="2.1" fill="#F7931E"/>
<circle cx="267.3" cy="384.9" r="2.1" fill="#F7931E"/>
<circle cx="283.5" cy="391.0" r="2.1" fill="#F7931E"/>
<circle cx="299.8" cy="401.9" r="2.1" fill="#F7931E"/>
<circle cx="316.0" cy="401.7" r="2.1" fill="#F7931E"/>
<circle cx="332.2" cy="406.5" r="2.1" fill="#F7931E"/>
<circle cx="348.4" cy="384.0" r="2.1" fill="#F7931E"/>
<circle cx="364.6" cy="418.7" r="2.1" fill="#F7931E"/>
<circle cx="380.8" cy="429.0" r="2.1" fill="#F7931E"/>
<circle cx="397.0" cy="444.0" r="2.1" fill="#F7931E"/>
<circle cx="413.2" cy="448.5" r="2.1" fill="#F7931E"/>
<circle cx="429.4" cy="453.0" r="2.1" fill="#F7931E"/>
<circle cx="445.6" cy="463.2" r="2.1" fill="#F7931E"/>
<circle cx="461.9" cy="469.9" r="2.1" fill="#F7931E"/>
<circle cx="478.1" cy="476.7" r="2.1" fill="#F7931E"/>
<circle cx="494.3" cy="477.3" r="2.1" fill="#F7931E"/>
<polyline points="56.6,400.8 72.8,366.0 89.0,346.6 105.2,354.9" fill="none" stroke="#F7931E" stroke-width="1.6" stroke-linejoin="round"/>
<polyline points="137.7,358.8 153.9,341.1 170.1,345.3 186.3,359.5 202.5,366.9 218.7,379.8 234.9,374.6 251.1,371.6 267.3,386.5 283.5,393.8 299.8,399.1 316.0,404.7 332.2,408.1 348.4,386.3 364.6,422.1 380.8,431.3 397.0,443.6 413.2,448.5 429.4,457.0 445.6,460.4 461.9,468.0 478.1,475.8 494.3,478.8" fill="none" stroke="#F7931E" stroke-width="1.6" stroke-linejoin="round"/>
<circle cx="56.6" cy="400.8" r="2.1" fill="#F7931E"/>
<circle cx="72.8" cy="366.0" r="2.1" fill="#F7931E"/>
<circle cx="89.0" cy="346.6" r="2.1" fill="#F7931E"/>
<circle cx="105.2" cy="354.9" r="2.1" fill="#F7931E"/>
<circle cx="137.7" cy="358.8" r="2.1" fill="#F7931E"/>
<circle cx="153.9" cy="341.1" r="2.1" fill="#F7931E"/>
<circle cx="170.1" cy="345.3" r="2.1" fill="#F7931E"/>
<circle cx="186.3" cy="359.5" r="2.1" fill="#F7931E"/>
<circle cx="202.5" cy="366.9" r="2.1" fill="#F7931E"/>
<circle cx="218.7" cy="379.8" r="2.1" fill="#F7931E"/>
<circle cx="234.9" cy="374.6" r="2.1" fill="#F7931E"/>
<circle cx="251.1" cy="371.6" r="2.1" fill="#F7931E"/>
<circle cx="267.3" cy="386.5" r="2.1" fill="#F7931E"/>
<circle cx="283.5" cy="393.8" r="2.1" fill="#F7931E"/>
<circle cx="299.8" cy="399.1" r="2.1" fill="#F7931E"/>
<circle cx="316.0" cy="404.7" r="2.1" fill="#F7931E"/>
<circle cx="332.2" cy="408.1" r="2.1" fill="#F7931E"/>
<circle cx="348.4" cy="386.3" r="2.1" fill="#F7931E"/>
<circle cx="364.6" cy="422.1" r="2.1" fill="#F7931E"/>
<circle cx="380.8" cy="431.3" r="2.1" fill="#F7931E"/>
<circle cx="397.0" cy="443.6" r="2.1" fill="#F7931E"/>
<circle cx="413.2" cy="448.5" r="2.1" fill="#F7931E"/>
<circle cx="429.4" cy="457.0" r="2.1" fill="#F7931E"/>
<circle cx="445.6" cy="460.4" r="2.1" fill="#F7931E"/>
<circle cx="461.9" cy="468.0" r="2.1" fill="#F7931E"/>
<circle cx="478.1" cy="475.8" r="2.1" fill="#F7931E"/>
<circle cx="494.3" cy="478.8" r="2.1" fill="#F7931E"/>
<polyline points="56.6,397.4 72.8,368.1 89.0,348.4 105.2,353.0" fill="none" stroke="#F7931E" stroke-width="1.6" stroke-linejoin="round"/>
<polyline points="137.7,355.0 153.9,343.9 170.1,346.2 186.3,364.3 202.5,368.6 218.7,380.7 234.9,378.0 251.1,374.0 267.3,386.7 283.5,394.4 299.8,404.0 316.0,405.0 332.2,409.0 348.4,383.7 364.6,421.5 380.8,431.7 397.0,442.8 413.2,450.2 429.4,455.6 445.6,462.7 461.9,469.3 478.1,475.7 494.3,481.3" fill="none" stroke="#F7931E" stroke-width="1.6" stroke-linejoin="round"/>
<circle cx="56.6" cy="397.4" r="2.1" fill="#F7931E"/>
<circle cx="72.8" cy="368.1" r="2.1" fill="#F7931E"/>
<circle cx="89.0" cy="348.4" r="2.1" fill="#F7931E"/>
<circle cx="105.2" cy="353.0" r="2.1" fill="#F7931E"/>
<circle cx="137.7" cy="355.0" r="2.1" fill="#F7931E"/>
<circle cx="153.9" cy="343.9" r="2.1" fill="#F7931E"/>
<circle cx="170.1" cy="346.2" r="2.1" fill="#F7931E"/>
<circle cx="186.3" cy="364.3" r="2.1" fill="#F7931E"/>
<circle cx="202.5" cy="368.6" r="2.1" fill="#F7931E"/>
<circle cx="218.7" cy="380.7" r="2.1" fill="#F7931E"/>
<circle cx="234.9" cy="378.0" r="2.1" fill="#F7931E"/>
<circle cx="251.1" cy="374.0" r="2.1" fill="#F7931E"/>
<circle cx="267.3" cy="386.7" r="2.1" fill="#F7931E"/>
<circle cx="283.5" cy="394.4" r="2.1" fill="#F7931E"/>
<circle cx="299.8" cy="404.0" r="2.1" fill="#F7931E"/>
<circle cx="316.0" cy="405.0" r="2.1" fill="#F7931E"/>
<circle cx="332.2" cy="409.0" r="2.1" fill="#F7931E"/>
<circle cx="348.4" cy="383.7" r="2.1" fill="#F7931E"/>
<circle cx="364.6" cy="421.5" r="2.1" fill="#F7931E"/>
<circle cx="380.8" cy="431.7" r="2.1" fill="#F7931E"/>
<circle cx="397.0" cy="442.8" r="2.1" fill="#F7931E"/>
<circle cx="413.2" cy="450.2" r="2.1" fill="#F7931E"/>
<circle cx="429.4" cy="455.6" r="2.1" fill="#F7931E"/>
<circle cx="445.6" cy="462.7" r="2.1" fill="#F7931E"/>
<circle cx="461.9" cy="469.3" r="2.1" fill="#F7931E"/>
<circle cx="478.1" cy="475.7" r="2.1" fill="#F7931E"/>
<circle cx="494.3" cy="481.3" r="2.1" fill="#F7931E"/>
<polyline points="56.6,395.1 72.8,359.0 89.0,347.3 105.2,352.6" fill="none" stroke="#F7931E" stroke-width="1.6" stroke-linejoin="round"/>
<polyline points="137.7,354.7 153.9,346.0 170.1,350.6 186.3,360.3 202.5,371.9 218.7,382.6 234.9,377.6 251.1,372.0 267.3,390.0 283.5,394.2 299.8,402.1 316.0,403.2 332.2,408.0 348.4,384.6 364.6,422.0 380.8,431.7 397.0,443.9 413.2,450.1 429.4,455.9 445.6,462.7 461.9,470.8 478.1,478.2 494.3,479.8" fill="none" stroke="#F7931E" stroke-width="1.6" stroke-linejoin="round"/>
<circle cx="56.6" cy="395.1" r="2.1" fill="#F7931E"/>
<circle cx="72.8" cy="359.0" r="2.1" fill="#F7931E"/>
<circle cx="89.0" cy="347.3" r="2.1" fill="#F7931E"/>
<circle cx="105.2" cy="352.6" r="2.1" fill="#F7931E"/>
<circle cx="137.7" cy="354.7" r="2.1" fill="#F7931E"/>
<circle cx="153.9" cy="346.0" r="2.1" fill="#F7931E"/>
<circle cx="170.1" cy="350.6" r="2.1" fill="#F7931E"/>
<circle cx="186.3" cy="360.3" r="2.1" fill="#F7931E"/>
<circle cx="202.5" cy="371.9" r="2.1" fill="#F7931E"/>
<circle cx="218.7" cy="382.6" r="2.1" fill="#F7931E"/>
<circle cx="234.9" cy="377.6" r="2.1" fill="#F7931E"/>
<circle cx="251.1" cy="372.0" r="2.1" fill="#F7931E"/>
<circle cx="267.3" cy="390.0" r="2.1" fill="#F7931E"/>
<circle cx="283.5" cy="394.2" r="2.1" fill="#F7931E"/>
<circle cx="299.8" cy="402.1" r="2.1" fill="#F7931E"/>
<circle cx="316.0" cy="403.2" r="2.1" fill="#F7931E"/>
<circle cx="332.2" cy="408.0" r="2.1" fill="#F7931E"/>
<circle cx="348.4" cy="384.6" r="2.1" fill="#F7931E"/>
<circle cx="364.6" cy="422.0" r="2.1" fill="#F7931E"/>
<circle cx="380.8" cy="431.7" r="2.1" fill="#F7931E"/>
<circle cx="397.0" cy="443.9" r="2.1" fill="#F7931E"/>
<circle cx="413.2" cy="450.1" r="2.1" fill="#F7931E"/>
<circle cx="429.4" cy="455.9" r="2.1" fill="#F7931E"/>
<circle cx="445.6" cy="462.7" r="2.1" fill="#F7931E"/>
<circle cx="461.9" cy="470.8" r="2.1" fill="#F7931E"/>
<circle cx="478.1" cy="478.2" r="2.1" fill="#F7931E"/>
<circle cx="494.3" cy="479.8" r="2.1" fill="#F7931E"/>
<polyline points="56.6,403.7 72.8,368.0 89.0,348.8 105.2,355.6" fill="none" stroke="#F7931E" stroke-width="1.6" stroke-linejoin="round"/>
<polyline points="137.7,360.0 153.9,345.1 170.1,348.3 186.3,365.9 202.5,373.1 218.7,383.2 234.9,379.7 251.1,375.2 267.3,387.8 283.5,394.2 299.8,403.1 316.0,406.5 332.2,410.4 348.4,386.1 364.6,424.7 380.8,432.5 397.0,444.0 413.2,452.4 429.4,456.3 445.6,465.4 461.9,471.7 478.1,479.6 494.3,483.3" fill="none" stroke="#F7931E" stroke-width="1.6" stroke-linejoin="round"/>
<circle cx="56.6" cy="403.7" r="2.1" fill="#F7931E"/>
<circle cx="72.8" cy="368.0" r="2.1" fill="#F7931E"/>
<circle cx="89.0" cy="348.8" r="2.1" fill="#F7931E"/>
<circle cx="105.2" cy="355.6" r="2.1" fill="#F7931E"/>
<circle cx="137.7" cy="360.0" r="2.1" fill="#F7931E"/>
<circle cx="153.9" cy="345.1" r="2.1" fill="#F7931E"/>
<circle cx="170.1" cy="348.3" r="2.1" fill="#F7931E"/>
<circle cx="186.3" cy="365.9" r="2.1" fill="#F7931E"/>
<circle cx="202.5" cy="373.1" r="2.1" fill="#F7931E"/>
<circle cx="218.7" cy="383.2" r="2.1" fill="#F7931E"/>
<circle cx="234.9" cy="379.7" r="2.1" fill="#F7931E"/>
<circle cx="251.1" cy="375.2" r="2.1" fill="#F7931E"/>
<circle cx="267.3" cy="387.8" r="2.1" fill="#F7931E"/>
<circle cx="283.5" cy="394.2" r="2.1" fill="#F7931E"/>
<circle cx="299.8" cy="403.1" r="2.1" fill="#F7931E"/>
<circle cx="316.0" cy="406.5" r="2.1" fill="#F7931E"/>
<circle cx="332.2" cy="410.4" r="2.1" fill="#F7931E"/>
<circle cx="348.4" cy="386.1" r="2.1" fill="#F7931E"/>
<circle cx="364.6" cy="424.7" r="2.1" fill="#F7931E"/>
<circle cx="380.8" cy="432.5" r="2.1" fill="#F7931E"/>
<circle cx="397.0" cy="444.0" r="2.1" fill="#F7931E"/>
<circle cx="413.2" cy="452.4" r="2.1" fill="#F7931E"/>
<circle cx="429.4" cy="456.3" r="2.1" fill="#F7931E"/>
<circle cx="445.6" cy="465.4" r="2.1" fill="#F7931E"/>
<circle cx="461.9" cy="471.7" r="2.1" fill="#F7931E"/>
<circle cx="478.1" cy="479.6" r="2.1" fill="#F7931E"/>
<circle cx="494.3" cy="483.3" r="2.1" fill="#F7931E"/>
<polyline points="56.6,403.9 72.8,371.4 89.0,349.7 105.2,354.7" fill="none" stroke="#F7931E" stroke-width="1.6" stroke-linejoin="round"/>
<polyline points="137.7,362.2 153.9,340.8 170.1,347.3 186.3,367.7 202.5,370.3 218.7,383.2 234.9,378.2 251.1,377.4 267.3,389.2 283.5,393.2 299.8,405.9 316.0,404.1 332.2,410.6 348.4,387.7 364.6,425.2 380.8,433.6 397.0,445.0 413.2,454.4 429.4,456.6 445.6,465.9 461.9,471.8 478.1,479.5 494.3,480.1" fill="none" stroke="#F7931E" stroke-width="1.6" stroke-linejoin="round"/>
<circle cx="56.6" cy="403.9" r="2.1" fill="#F7931E"/>
<circle cx="72.8" cy="371.4" r="2.1" fill="#F7931E"/>
<circle cx="89.0" cy="349.7" r="2.1" fill="#F7931E"/>
<circle cx="105.2" cy="354.7" r="2.1" fill="#F7931E"/>
<circle cx="137.7" cy="362.2" r="2.1" fill="#F7931E"/>
<circle cx="153.9" cy="340.8" r="2.1" fill="#F7931E"/>
<circle cx="170.1" cy="347.3" r="2.1" fill="#F7931E"/>
<circle cx="186.3" cy="367.7" r="2.1" fill="#F7931E"/>
<circle cx="202.5" cy="370.3" r="2.1" fill="#F7931E"/>
<circle cx="218.7" cy="383.2" r="2.1" fill="#F7931E"/>
<circle cx="234.9" cy="378.2" r="2.1" fill="#F7931E"/>
<circle cx="251.1" cy="377.4" r="2.1" fill="#F7931E"/>
<circle cx="267.3" cy="389.2" r="2.1" fill="#F7931E"/>
<circle cx="283.5" cy="393.2" r="2.1" fill="#F7931E"/>
<circle cx="299.8" cy="405.9" r="2.1" fill="#F7931E"/>
<circle cx="316.0" cy="404.1" r="2.1" fill="#F7931E"/>
<circle cx="332.2" cy="410.6" r="2.1" fill="#F7931E"/>
<circle cx="348.4" cy="387.7" r="2.1" fill="#F7931E"/>
<circle cx="364.6" cy="425.2" r="2.1" fill="#F7931E"/>
<circle cx="380.8" cy="433.6" r="2.1" fill="#F7931E"/>
<circle cx="397.0" cy="445.0" r="2.1" fill="#F7931E"/>
<circle cx="413.2" cy="454.4" r="2.1" fill="#F7931E"/>
<circle cx="429.4" cy="456.6" r="2.1" fill="#F7931E"/>
<circle cx="445.6" cy="465.9" r="2.1" fill="#F7931E"/>
<circle cx="461.9" cy="471.8" r="2.1" fill="#F7931E"/>
<circle cx="478.1" cy="479.5" r="2.1" fill="#F7931E"/>
<circle cx="494.3" cy="480.1" r="2.1" fill="#F7931E"/>
<polyline points="56.6,406.0 72.8,375.8 89.0,348.6 105.2,357.5" fill="none" stroke="#F7931E" stroke-width="1.6" stroke-linejoin="round"/>
<polyline points="137.7,363.4 153.9,348.6 170.1,349.5 186.3,364.4 202.5,374.2 218.7,388.0 234.9,382.6 251.1,375.3 267.3,390.9 283.5,395.4 299.8,404.3 316.0,405.9 332.2,408.7 348.4,387.6 364.6,426.8 380.8,432.3 397.0,445.8 413.2,452.4 429.4,460.3 445.6,466.5 461.9,473.2 478.1,479.3 494.3,483.3" fill="none" stroke="#F7931E" stroke-width="1.6" stroke-linejoin="round"/>
<circle cx="56.6" cy="406.0" r="2.1" fill="#F7931E"/>
<circle cx="72.8" cy="375.8" r="2.1" fill="#F7931E"/>
<circle cx="89.0" cy="348.6" r="2.1" fill="#F7931E"/>
<circle cx="105.2" cy="357.5" r="2.1" fill="#F7931E"/>
<circle cx="137.7" cy="363.4" r="2.1" fill="#F7931E"/>
<circle cx="153.9" cy="348.6" r="2.1" fill="#F7931E"/>
<circle cx="170.1" cy="349.5" r="2.1" fill="#F7931E"/>
<circle cx="186.3" cy="364.4" r="2.1" fill="#F7931E"/>
<circle cx="202.5" cy="374.2" r="2.1" fill="#F7931E"/>
<circle cx="218.7" cy="388.0" r="2.1" fill="#F7931E"/>
<circle cx="234.9" cy="382.6" r="2.1" fill="#F7931E"/>
<circle cx="251.1" cy="375.3" r="2.1" fill="#F7931E"/>
<circle cx="267.3" cy="390.9" r="2.1" fill="#F7931E"/>
<circle cx="283.5" cy="395.4" r="2.1" fill="#F7931E"/>
<circle cx="299.8" cy="404.3" r="2.1" fill="#F7931E"/>
<circle cx="316.0" cy="405.9" r="2.1" fill="#F7931E"/>
<circle cx="332.2" cy="408.7" r="2.1" fill="#F7931E"/>
<circle cx="348.4" cy="387.6" r="2.1" fill="#F7931E"/>
<circle cx="364.6" cy="426.8" r="2.1" fill="#F7931E"/>
<circle cx="380.8" cy="432.3" r="2.1" fill="#F7931E"/>
<circle cx="397.0" cy="445.8" r="2.1" fill="#F7931E"/>
<circle cx="413.2" cy="452.4" r="2.1" fill="#F7931E"/>
<circle cx="429.4" cy="460.3" r="2.1" fill="#F7931E"/>
<circle cx="445.6" cy="466.5" r="2.1" fill="#F7931E"/>
<circle cx="461.9" cy="473.2" r="2.1" fill="#F7931E"/>
<circle cx="478.1" cy="479.3" r="2.1" fill="#F7931E"/>
<circle cx="494.3" cy="483.3" r="2.1" fill="#F7931E"/>
<polyline points="56.6,406.5 72.8,377.3 89.0,349.4 105.2,357.0" fill="none" stroke="#F7931E" stroke-width="1.6" stroke-linejoin="round"/>
<polyline points="137.7,366.4 153.9,350.6 170.1,353.0 186.3,367.5 202.5,380.8 218.7,386.1 234.9,380.8 251.1,375.1 267.3,392.8 283.5,395.7 299.8,404.5 316.0,407.5 332.2,412.0 348.4,387.4 364.6,426.2 380.8,432.8 397.0,446.3 413.2,454.8 429.4,459.1 445.6,464.8 461.9,471.0 478.1,479.9 494.3,483.6" fill="none" stroke="#F7931E" stroke-width="1.6" stroke-linejoin="round"/>
<circle cx="56.6" cy="406.5" r="2.1" fill="#F7931E"/>
<circle cx="72.8" cy="377.3" r="2.1" fill="#F7931E"/>
<circle cx="89.0" cy="349.4" r="2.1" fill="#F7931E"/>
<circle cx="105.2" cy="357.0" r="2.1" fill="#F7931E"/>
<circle cx="137.7" cy="366.4" r="2.1" fill="#F7931E"/>
<circle cx="153.9" cy="350.6" r="2.1" fill="#F7931E"/>
<circle cx="170.1" cy="353.0" r="2.1" fill="#F7931E"/>
<circle cx="186.3" cy="367.5" r="2.1" fill="#F7931E"/>
<circle cx="202.5" cy="380.8" r="2.1" fill="#F7931E"/>
<circle cx="218.7" cy="386.1" r="2.1" fill="#F7931E"/>
<circle cx="234.9" cy="380.8" r="2.1" fill="#F7931E"/>
<circle cx="251.1" cy="375.1" r="2.1" fill="#F7931E"/>
<circle cx="267.3" cy="392.8" r="2.1" fill="#F7931E"/>
<circle cx="283.5" cy="395.7" r="2.1" fill="#F7931E"/>
<circle cx="299.8" cy="404.5" r="2.1" fill="#F7931E"/>
<circle cx="316.0" cy="407.5" r="2.1" fill="#F7931E"/>
<circle cx="332.2" cy="412.0" r="2.1" fill="#F7931E"/>
<circle cx="348.4" cy="387.4" r="2.1" fill="#F7931E"/>
<circle cx="364.6" cy="426.2" r="2.1" fill="#F7931E"/>
<circle cx="380.8" cy="432.8" r="2.1" fill="#F7931E"/>
<circle cx="397.0" cy="446.3" r="2.1" fill="#F7931E"/>
<circle cx="413.2" cy="454.8" r="2.1" fill="#F7931E"/>
<circle cx="429.4" cy="459.1" r="2.1" fill="#F7931E"/>
<circle cx="445.6" cy="464.8" r="2.1" fill="#F7931E"/>
<circle cx="461.9" cy="471.0" r="2.1" fill="#F7931E"/>
<circle cx="478.1" cy="479.9" r="2.1" fill="#F7931E"/>
<circle cx="494.3" cy="483.6" r="2.1" fill="#F7931E"/>
<polyline points="56.6,403.7 72.8,372.6 89.0,350.4 105.2,363.1" fill="none" stroke="#F7931E" stroke-width="1.6" stroke-linejoin="round"/>
<polyline points="137.7,362.4 153.9,352.4 170.1,354.0 186.3,369.8 202.5,379.8 218.7,391.8 234.9,384.6 251.1,378.4 267.3,393.1 283.5,398.0 299.8,408.2 316.0,407.0 332.2,411.7 348.4,390.3 364.6,425.7 380.8,432.7 397.0,445.3 413.2,456.0 429.4,461.6 445.6,468.9 461.9,475.4 478.1,479.5 494.3,483.4" fill="none" stroke="#F7931E" stroke-width="1.6" stroke-linejoin="round"/>
<circle cx="56.6" cy="403.7" r="2.1" fill="#F7931E"/>
<circle cx="72.8" cy="372.6" r="2.1" fill="#F7931E"/>
<circle cx="89.0" cy="350.4" r="2.1" fill="#F7931E"/>
<circle cx="105.2" cy="363.1" r="2.1" fill="#F7931E"/>
<circle cx="137.7" cy="362.4" r="2.1" fill="#F7931E"/>
<circle cx="153.9" cy="352.4" r="2.1" fill="#F7931E"/>
<circle cx="170.1" cy="354.0" r="2.1" fill="#F7931E"/>
<circle cx="186.3" cy="369.8" r="2.1" fill="#F7931E"/>
<circle cx="202.5" cy="379.8" r="2.1" fill="#F7931E"/>
<circle cx="218.7" cy="391.8" r="2.1" fill="#F7931E"/>
<circle cx="234.9" cy="384.6" r="2.1" fill="#F7931E"/>
<circle cx="251.1" cy="378.4" r="2.1" fill="#F7931E"/>
<circle cx="267.3" cy="393.1" r="2.1" fill="#F7931E"/>
<circle cx="283.5" cy="398.0" r="2.1" fill="#F7931E"/>
<circle cx="299.8" cy="408.2" r="2.1" fill="#F7931E"/>
<circle cx="316.0" cy="407.0" r="2.1" fill="#F7931E"/>
<circle cx="332.2" cy="411.7" r="2.1" fill="#F7931E"/>
<circle cx="348.4" cy="390.3" r="2.1" fill="#F7931E"/>
<circle cx="364.6" cy="425.7" r="2.1" fill="#F7931E"/>
<circle cx="380.8" cy="432.7" r="2.1" fill="#F7931E"/>
<circle cx="397.0" cy="445.3" r="2.1" fill="#F7931E"/>
<circle cx="413.2" cy="456.0" r="2.1" fill="#F7931E"/>
<circle cx="429.4" cy="461.6" r="2.1" fill="#F7931E"/>
<circle cx="445.6" cy="468.9" r="2.1" fill="#F7931E"/>
<circle cx="461.9" cy="475.4" r="2.1" fill="#F7931E"/>
<circle cx="478.1" cy="479.5" r="2.1" fill="#F7931E"/>
<circle cx="494.3" cy="483.4" r="2.1" fill="#F7931E"/>
<polyline points="56.6,405.8 72.8,372.3 89.0,352.2 105.2,364.9" fill="none" stroke="#F7931E" stroke-width="1.6" stroke-linejoin="round"/>
<polyline points="137.7,370.6 153.9,347.8 170.1,358.5 186.3,368.9 202.5,380.9 218.7,392.1 234.9,381.5 251.1,376.4 267.3,395.7 283.5,396.9 299.8,406.6 316.0,408.3 332.2,412.1 348.4,387.5 364.6,425.9 380.8,434.0 397.0,446.2 413.2,454.5 429.4,461.9 445.6,469.5 461.9,474.0 478.1,482.0 494.3,483.9" fill="none" stroke="#F7931E" stroke-width="1.6" stroke-linejoin="round"/>
<circle cx="56.6" cy="405.8" r="2.1" fill="#F7931E"/>
<circle cx="72.8" cy="372.3" r="2.1" fill="#F7931E"/>
<circle cx="89.0" cy="352.2" r="2.1" fill="#F7931E"/>
<circle cx="105.2" cy="364.9" r="2.1" fill="#F7931E"/>
<circle cx="137.7" cy="370.6" r="2.1" fill="#F7931E"/>
<circle cx="153.9" cy="347.8" r="2.1" fill="#F7931E"/>
<circle cx="170.1" cy="358.5" r="2.1" fill="#F7931E"/>
<circle cx="186.3" cy="368.9" r="2.1" fill="#F7931E"/>
<circle cx="202.5" cy="380.9" r="2.1" fill="#F7931E"/>
<circle cx="218.7" cy="392.1" r="2.1" fill="#F7931E"/>
<circle cx="234.9" cy="381.5" r="2.1" fill="#F7931E"/>
<circle cx="251.1" cy="376.4" r="2.1" fill="#F7931E"/>
<circle cx="267.3" cy="395.7" r="2.1" fill="#F7931E"/>
<circle cx="283.5" cy="396.9" r="2.1" fill="#F7931E"/>
<circle cx="299.8" cy="406.6" r="2.1" fill="#F7931E"/>
<circle cx="316.0" cy="408.3" r="2.1" fill="#F7931E"/>
<circle cx="332.2" cy="412.1" r="2.1" fill="#F7931E"/>
<circle cx="348.4" cy="387.5" r="2.1" fill="#F7931E"/>
<circle cx="364.6" cy="425.9" r="2.1" fill="#F7931E"/>
<circle cx="380.8" cy="434.0" r="2.1" fill="#F7931E"/>
<circle cx="397.0" cy="446.2" r="2.1" fill="#F7931E"/>
<circle cx="413.2" cy="454.5" r="2.1" fill="#F7931E"/>
<circle cx="429.4" cy="461.9" r="2.1" fill="#F7931E"/>
<circle cx="445.6" cy="469.5" r="2.1" fill="#F7931E"/>
<circle cx="461.9" cy="474.0" r="2.1" fill="#F7931E"/>
<circle cx="478.1" cy="482.0" r="2.1" fill="#F7931E"/>
<circle cx="494.3" cy="483.9" r="2.1" fill="#F7931E"/>
<polyline points="56.6,407.4 72.8,380.3 89.0,350.8 105.2,366.2" fill="none" stroke="#F7931E" stroke-width="1.6" stroke-linejoin="round"/>
<polyline points="137.7,372.1 153.9,347.8 170.1,360.5 186.3,370.5 202.5,386.3 218.7,393.4 234.9,383.5 251.1,381.1 267.3,395.6 283.5,399.7 299.8,406.9 316.0,409.6 332.2,413.5 348.4,390.4 364.6,427.8 380.8,433.4 397.0,446.6 413.2,455.8 429.4,463.2 445.6,469.0 461.9,475.5 478.1,480.9 494.3,488.1" fill="none" stroke="#F7931E" stroke-width="1.6" stroke-linejoin="round"/>
<circle cx="56.6" cy="407.4" r="2.1" fill="#F7931E"/>
<circle cx="72.8" cy="380.3" r="2.1" fill="#F7931E"/>
<circle cx="89.0" cy="350.8" r="2.1" fill="#F7931E"/>
<circle cx="105.2" cy="366.2" r="2.1" fill="#F7931E"/>
<circle cx="137.7" cy="372.1" r="2.1" fill="#F7931E"/>
<circle cx="153.9" cy="347.8" r="2.1" fill="#F7931E"/>
<circle cx="170.1" cy="360.5" r="2.1" fill="#F7931E"/>
<circle cx="186.3" cy="370.5" r="2.1" fill="#F7931E"/>
<circle cx="202.5" cy="386.3" r="2.1" fill="#F7931E"/>
<circle cx="218.7" cy="393.4" r="2.1" fill="#F7931E"/>
<circle cx="234.9" cy="383.5" r="2.1" fill="#F7931E"/>
<circle cx="251.1" cy="381.1" r="2.1" fill="#F7931E"/>
<circle cx="267.3" cy="395.6" r="2.1" fill="#F7931E"/>
<circle cx="283.5" cy="399.7" r="2.1" fill="#F7931E"/>
<circle cx="299.8" cy="406.9" r="2.1" fill="#F7931E"/>
<circle cx="316.0" cy="409.6" r="2.1" fill="#F7931E"/>
<circle cx="332.2" cy="413.5" r="2.1" fill="#F7931E"/>
<circle cx="348.4" cy="390.4" r="2.1" fill="#F7931E"/>
<circle cx="364.6" cy="427.8" r="2.1" fill="#F7931E"/>
<circle cx="380.8" cy="433.4" r="2.1" fill="#F7931E"/>
<circle cx="397.0" cy="446.6" r="2.1" fill="#F7931E"/>
<circle cx="413.2" cy="455.8" r="2.1" fill="#F7931E"/>
<circle cx="429.4" cy="463.2" r="2.1" fill="#F7931E"/>
<circle cx="445.6" cy="469.0" r="2.1" fill="#F7931E"/>
<circle cx="461.9" cy="475.5" r="2.1" fill="#F7931E"/>
<circle cx="478.1" cy="480.9" r="2.1" fill="#F7931E"/>
<circle cx="494.3" cy="488.1" r="2.1" fill="#F7931E"/>
<polyline points="56.6,412.0 72.8,376.1 89.0,353.7 105.2,365.7" fill="none" stroke="#F7931E" stroke-width="1.6" stroke-linejoin="round"/>
<polyline points="137.7,366.4 153.9,355.7 170.1,355.1 186.3,371.3 202.5,387.4 218.7,393.4 234.9,385.7 251.1,381.9 267.3,395.4 283.5,398.3 299.8,407.2 316.0,407.5 332.2,413.2 348.4,391.2 364.6,428.7 380.8,436.2 397.0,446.6 413.2,456.1 429.4,462.4 445.6,470.6 461.9,473.8 478.1,483.5 494.3,486.6" fill="none" stroke="#F7931E" stroke-width="1.6" stroke-linejoin="round"/>
<circle cx="56.6" cy="412.0" r="2.1" fill="#F7931E"/>
<circle cx="72.8" cy="376.1" r="2.1" fill="#F7931E"/>
<circle cx="89.0" cy="353.7" r="2.1" fill="#F7931E"/>
<circle cx="105.2" cy="365.7" r="2.1" fill="#F7931E"/>
<circle cx="137.7" cy="366.4" r="2.1" fill="#F7931E"/>
<circle cx="153.9" cy="355.7" r="2.1" fill="#F7931E"/>
<circle cx="170.1" cy="355.1" r="2.1" fill="#F7931E"/>
<circle cx="186.3" cy="371.3" r="2.1" fill="#F7931E"/>
<circle cx="202.5" cy="387.4" r="2.1" fill="#F7931E"/>
<circle cx="218.7" cy="393.4" r="2.1" fill="#F7931E"/>
<circle cx="234.9" cy="385.7" r="2.1" fill="#F7931E"/>
<circle cx="251.1" cy="381.9" r="2.1" fill="#F7931E"/>
<circle cx="267.3" cy="395.4" r="2.1" fill="#F7931E"/>
<circle cx="283.5" cy="398.3" r="2.1" fill="#F7931E"/>
<circle cx="299.8" cy="407.2" r="2.1" fill="#F7931E"/>
<circle cx="316.0" cy="407.5" r="2.1" fill="#F7931E"/>
<circle cx="332.2" cy="413.2" r="2.1" fill="#F7931E"/>
<circle cx="348.4" cy="391.2" r="2.1" fill="#F7931E"/>
<circle cx="364.6" cy="428.7" r="2.1" fill="#F7931E"/>
<circle cx="380.8" cy="436.2" r="2.1" fill="#F7931E"/>
<circle cx="397.0" cy="446.6" r="2.1" fill="#F7931E"/>
<circle cx="413.2" cy="456.1" r="2.1" fill="#F7931E"/>
<circle cx="429.4" cy="462.4" r="2.1" fill="#F7931E"/>
<circle cx="445.6" cy="470.6" r="2.1" fill="#F7931E"/>
<circle cx="461.9" cy="473.8" r="2.1" fill="#F7931E"/>
<circle cx="478.1" cy="483.5" r="2.1" fill="#F7931E"/>
<circle cx="494.3" cy="486.6" r="2.1" fill="#F7931E"/>
<polyline points="56.6,414.6 72.8,380.3 89.0,352.5 105.2,365.0" fill="none" stroke="#F7931E" stroke-width="1.6" stroke-linejoin="round"/>
<polyline points="137.7,371.6 153.9,355.7 170.1,358.2 186.3,376.0 202.5,382.6 218.7,392.2 234.9,384.1 251.1,379.5 267.3,397.8 283.5,400.6 299.8,408.0 316.0,408.6 332.2,412.7 348.4,391.8 364.6,431.0 380.8,436.8 397.0,447.5 413.2,456.2 429.4,463.1 445.6,468.2 461.9,476.7 478.1,484.7 494.3,487.3" fill="none" stroke="#F7931E" stroke-width="1.6" stroke-linejoin="round"/>
<circle cx="56.6" cy="414.6" r="2.1" fill="#F7931E"/>
<circle cx="72.8" cy="380.3" r="2.1" fill="#F7931E"/>
<circle cx="89.0" cy="352.5" r="2.1" fill="#F7931E"/>
<circle cx="105.2" cy="365.0" r="2.1" fill="#F7931E"/>
<circle cx="137.7" cy="371.6" r="2.1" fill="#F7931E"/>
<circle cx="153.9" cy="355.7" r="2.1" fill="#F7931E"/>
<circle cx="170.1" cy="358.2" r="2.1" fill="#F7931E"/>
<circle cx="186.3" cy="376.0" r="2.1" fill="#F7931E"/>
<circle cx="202.5" cy="382.6" r="2.1" fill="#F7931E"/>
<circle cx="218.7" cy="392.2" r="2.1" fill="#F7931E"/>
<circle cx="234.9" cy="384.1" r="2.1" fill="#F7931E"/>
<circle cx="251.1" cy="379.5" r="2.1" fill="#F7931E"/>
<circle cx="267.3" cy="397.8" r="2.1" fill="#F7931E"/>
<circle cx="283.5" cy="400.6" r="2.1" fill="#F7931E"/>
<circle cx="299.8" cy="408.0" r="2.1" fill="#F7931E"/>
<circle cx="316.0" cy="408.6" r="2.1" fill="#F7931E"/>
<circle cx="332.2" cy="412.7" r="2.1" fill="#F7931E"/>
<circle cx="348.4" cy="391.8" r="2.1" fill="#F7931E"/>
<circle cx="364.6" cy="431.0" r="2.1" fill="#F7931E"/>
<circle cx="380.8" cy="436.8" r="2.1" fill="#F7931E"/>
<circle cx="397.0" cy="447.5" r="2.1" fill="#F7931E"/>
<circle cx="413.2" cy="456.2" r="2.1" fill="#F7931E"/>
<circle cx="429.4" cy="463.1" r="2.1" fill="#F7931E"/>
<circle cx="445.6" cy="468.2" r="2.1" fill="#F7931E"/>
<circle cx="461.9" cy="476.7" r="2.1" fill="#F7931E"/>
<circle cx="478.1" cy="484.7" r="2.1" fill="#F7931E"/>
<circle cx="494.3" cy="487.3" r="2.1" fill="#F7931E"/>
<polyline points="56.6,411.4 72.8,386.0 89.0,352.0 105.2,368.0" fill="none" stroke="#F7931E" stroke-width="1.6" stroke-linejoin="round"/>
<polyline points="137.7,374.0 153.9,356.0 170.1,359.7 186.3,375.2 202.5,389.2 218.7,395.8 234.9,388.0 251.1,384.0 267.3,396.2 283.5,401.0 299.8,410.2 316.0,410.8 332.2,414.0 348.4,389.7 364.6,431.0 380.8,437.0 397.0,447.6 413.2,458.4 429.4,464.1 445.6,468.9 461.9,477.4 478.1,482.6 494.3,490.1" fill="none" stroke="#F7931E" stroke-width="1.6" stroke-linejoin="round"/>
<circle cx="56.6" cy="411.4" r="2.1" fill="#F7931E"/>
<circle cx="72.8" cy="386.0" r="2.1" fill="#F7931E"/>
<circle cx="89.0" cy="352.0" r="2.1" fill="#F7931E"/>
<circle cx="105.2" cy="368.0" r="2.1" fill="#F7931E"/>
<circle cx="137.7" cy="374.0" r="2.1" fill="#F7931E"/>
<circle cx="153.9" cy="356.0" r="2.1" fill="#F7931E"/>
<circle cx="170.1" cy="359.7" r="2.1" fill="#F7931E"/>
<circle cx="186.3" cy="375.2" r="2.1" fill="#F7931E"/>
<circle cx="202.5" cy="389.2" r="2.1" fill="#F7931E"/>
<circle cx="218.7" cy="395.8" r="2.1" fill="#F7931E"/>
<circle cx="234.9" cy="388.0" r="2.1" fill="#F7931E"/>
<circle cx="251.1" cy="384.0" r="2.1" fill="#F7931E"/>
<circle cx="267.3" cy="396.2" r="2.1" fill="#F7931E"/>
<circle cx="283.5" cy="401.0" r="2.1" fill="#F7931E"/>
<circle cx="299.8" cy="410.2" r="2.1" fill="#F7931E"/>
<circle cx="316.0" cy="410.8" r="2.1" fill="#F7931E"/>
<circle cx="332.2" cy="414.0" r="2.1" fill="#F7931E"/>
<circle cx="348.4" cy="389.7" r="2.1" fill="#F7931E"/>
<circle cx="364.6" cy="431.0" r="2.1" fill="#F7931E"/>
<circle cx="380.8" cy="437.0" r="2.1" fill="#F7931E"/>
<circle cx="397.0" cy="447.6" r="2.1" fill="#F7931E"/>
<circle cx="413.2" cy="458.4" r="2.1" fill="#F7931E"/>
<circle cx="429.4" cy="464.1" r="2.1" fill="#F7931E"/>
<circle cx="445.6" cy="468.9" r="2.1" fill="#F7931E"/>
<circle cx="461.9" cy="477.4" r="2.1" fill="#F7931E"/>
<circle cx="478.1" cy="482.6" r="2.1" fill="#F7931E"/>
<circle cx="494.3" cy="490.1" r="2.1" fill="#F7931E"/>
<polyline points="56.6,415.0 72.8,385.3 89.0,354.0 105.2,368.0" fill="none" stroke="#F7931E" stroke-width="1.6" stroke-linejoin="round"/>
<polyline points="137.7,374.0 153.9,353.1 170.1,362.0 186.3,376.0 202.5,385.3 218.7,395.0 234.9,386.5 251.1,381.3 267.3,398.0 283.5,401.0 299.8,410.2 316.0,411.0 332.2,414.0 348.4,390.7 364.6,431.0 380.8,437.0 397.0,448.0 413.2,459.0 429.4,465.0 445.6,470.3 461.9,478.0 478.1,486.0 494.3,491.0" fill="none" stroke="#F7931E" stroke-width="1.6" stroke-linejoin="round"/>
<circle cx="56.6" cy="415.0" r="2.1" fill="#F7931E"/>
<circle cx="72.8" cy="385.3" r="2.1" fill="#F7931E"/>
<circle cx="89.0" cy="354.0" r="2.1" fill="#F7931E"/>
<circle cx="105.2" cy="368.0" r="2.1" fill="#F7931E"/>
<circle cx="137.7" cy="374.0" r="2.1" fill="#F7931E"/>
<circle cx="153.9" cy="353.1" r="2.1" fill="#F7931E"/>
<circle cx="170.1" cy="362.0" r="2.1" fill="#F7931E"/>
<circle cx="186.3" cy="376.0" r="2.1" fill="#F7931E"/>
<circle cx="202.5" cy="385.3" r="2.1" fill="#F7931E"/>
<circle cx="218.7" cy="395.0" r="2.1" fill="#F7931E"/>
<circle cx="234.9" cy="386.5" r="2.1" fill="#F7931E"/>
<circle cx="251.1" cy="381.3" r="2.1" fill="#F7931E"/>
<circle cx="267.3" cy="398.0" r="2.1" fill="#F7931E"/>
<circle cx="283.5" cy="401.0" r="2.1" fill="#F7931E"/>
<circle cx="299.8" cy="410.2" r="2.1" fill="#F7931E"/>
<circle cx="316.0" cy="411.0" r="2.1" fill="#F7931E"/>
<circle cx="332.2" cy="414.0" r="2.1" fill="#F7931E"/>
<circle cx="348.4" cy="390.7" r="2.1" fill="#F7931E"/>
<circle cx="364.6" cy="431.0" r="2.1" fill="#F7931E"/>
<circle cx="380.8" cy="437.0" r="2.1" fill="#F7931E"/>
<circle cx="397.0" cy="448.0" r="2.1" fill="#F7931E"/>
<circle cx="413.2" cy="459.0" r="2.1" fill="#F7931E"/>
<circle cx="429.4" cy="465.0" r="2.1" fill="#F7931E"/>
<circle cx="445.6" cy="470.3" r="2.1" fill="#F7931E"/>
<circle cx="461.9" cy="478.0" r="2.1" fill="#F7931E"/>
<circle cx="478.1" cy="486.0" r="2.1" fill="#F7931E"/>
<circle cx="494.3" cy="491.0" r="2.1" fill="#F7931E"/>
<polyline points="56.6,351.0 72.8,360.0 89.0,345.0 105.2,350.0" fill="none" stroke="#F7931E" stroke-width="1.6" stroke-linejoin="round"/>
<polyline points="137.7,348.0 153.9,327.0 170.1,328.0 186.3,341.0 202.5,353.5 218.7,378.0 234.9,362.0 251.1,355.5 267.3,371.0 283.5,385.0 299.8,393.5 316.0,389.6 332.2,394.8 348.4,381.0 364.6,408.0 380.8,420.0 397.0,436.0 413.2,446.0 429.4,452.0 445.6,457.0 461.9,464.0 478.1,469.0 494.3,472.0" fill="none" stroke="#F7931E" stroke-width="1.6" stroke-linejoin="round"/>
<circle cx="56.6" cy="351.0" r="2.1" fill="#F7931E"/>
<circle cx="72.8" cy="360.0" r="2.1" fill="#F7931E"/>
<circle cx="89.0" cy="345.0" r="2.1" fill="#F7931E"/>
<circle cx="105.2" cy="350.0" r="2.1" fill="#F7931E"/>
<circle cx="137.7" cy="348.0" r="2.1" fill="#F7931E"/>
<circle cx="153.9" cy="327.0" r="2.1" fill="#F7931E"/>
<circle cx="170.1" cy="328.0" r="2.1" fill="#F7931E"/>
<circle cx="186.3" cy="341.0" r="2.1" fill="#F7931E"/>
<circle cx="202.5" cy="353.5" r="2.1" fill="#F7931E"/>
<circle cx="218.7" cy="378.0" r="2.1" fill="#F7931E"/>
<circle cx="234.9" cy="362.0" r="2.1" fill="#F7931E"/>
<circle cx="251.1" cy="355.5" r="2.1" fill="#F7931E"/>
<circle cx="267.3" cy="371.0" r="2.1" fill="#F7931E"/>
<circle cx="283.5" cy="385.0" r="2.1" fill="#F7931E"/>
<circle cx="299.8" cy="393.5" r="2.1" fill="#F7931E"/>
<circle cx="316.0" cy="389.6" r="2.1" fill="#F7931E"/>
<circle cx="332.2" cy="394.8" r="2.1" fill="#F7931E"/>
<circle cx="348.4" cy="381.0" r="2.1" fill="#F7931E"/>
<circle cx="364.6" cy="408.0" r="2.1" fill="#F7931E"/>
<circle cx="380.8" cy="420.0" r="2.1" fill="#F7931E"/>
<circle cx="397.0" cy="436.0" r="2.1" fill="#F7931E"/>
<circle cx="413.2" cy="446.0" r="2.1" fill="#F7931E"/>
<circle cx="429.4" cy="452.0" r="2.1" fill="#F7931E"/>
<circle cx="445.6" cy="457.0" r="2.1" fill="#F7931E"/>
<circle cx="461.9" cy="464.0" r="2.1" fill="#F7931E"/>
<circle cx="478.1" cy="469.0" r="2.1" fill="#F7931E"/>
<circle cx="494.3" cy="472.0" r="2.1" fill="#F7931E"/>
<polyline points="56.6,412.0 72.8,370.0 89.0,350.0 105.2,362.0" fill="none" stroke="#F7931E" stroke-width="1.6" stroke-linejoin="round"/>
<polyline points="137.7,372.0 153.9,350.0 170.1,356.0 186.3,372.0 202.5,389.0 218.7,412.0 234.9,386.0 251.1,383.0 267.3,398.0 283.5,403.0 299.8,409.0 316.0,413.0 332.2,416.0 348.4,392.0 364.6,429.0 380.8,438.0 397.0,447.0 413.2,458.0 429.4,465.0 445.6,471.5 461.9,487.0 478.1,494.7 494.3,501.0" fill="none" stroke="#F7931E" stroke-width="1.6" stroke-linejoin="round"/>
<circle cx="56.6" cy="412.0" r="2.1" fill="#F7931E"/>
<circle cx="72.8" cy="370.0" r="2.1" fill="#F7931E"/>
<circle cx="89.0" cy="350.0" r="2.1" fill="#F7931E"/>
<circle cx="105.2" cy="362.0" r="2.1" fill="#F7931E"/>
<circle cx="137.7" cy="372.0" r="2.1" fill="#F7931E"/>
<circle cx="153.9" cy="350.0" r="2.1" fill="#F7931E"/>
<circle cx="170.1" cy="356.0" r="2.1" fill="#F7931E"/>
<circle cx="186.3" cy="372.0" r="2.1" fill="#F7931E"/>
<circle cx="202.5" cy="389.0" r="2.1" fill="#F7931E"/>
<circle cx="218.7" cy="412.0" r="2.1" fill="#F7931E"/>
<circle cx="234.9" cy="386.0" r="2.1" fill="#F7931E"/>
<circle cx="251.1" cy="383.0" r="2.1" fill="#F7931E"/>
<circle cx="267.3" cy="398.0" r="2.1" fill="#F7931E"/>
<circle cx="283.5" cy="403.0" r="2.1" fill="#F7931E"/>
<circle cx="299.8" cy="409.0" r="2.1" fill="#F7931E"/>
<circle cx="316.0" cy="413.0" r="2.1" fill="#F7931E"/>
<circle cx="332.2" cy="416.0" r="2.1" fill="#F7931E"/>
<circle cx="348.4" cy="392.0" r="2.1" fill="#F7931E"/>
<circle cx="364.6" cy="429.0" r="2.1" fill="#F7931E"/>
<circle cx="380.8" cy="438.0" r="2.1" fill="#F7931E"/>
<circle cx="397.0" cy="447.0" r="2.1" fill="#F7931E"/>
<circle cx="413.2" cy="458.0" r="2.1" fill="#F7931E"/>
<circle cx="429.4" cy="465.0" r="2.1" fill="#F7931E"/>
<circle cx="445.6" cy="471.5" r="2.1" fill="#F7931E"/>
<circle cx="461.9" cy="487.0" r="2.1" fill="#F7931E"/>
<circle cx="478.1" cy="494.7" r="2.1" fill="#F7931E"/>
<circle cx="494.3" cy="501.0" r="2.1" fill="#F7931E"/>
<polyline points="56.6,405.0 72.8,372.0 89.0,355.0 105.2,366.0" fill="none" stroke="#F7931E" stroke-width="1.6" stroke-linejoin="round"/>
<polyline points="137.7,370.0 153.9,352.0 170.1,358.0 186.3,374.0 202.5,388.0 218.7,396.0 234.9,384.0 251.1,380.0 267.3,396.0 283.5,402.0 299.8,408.0 316.0,412.0 332.2,415.0 348.4,390.0 364.6,427.0 380.8,437.0 397.0,446.0 413.2,457.0 429.4,465.0 445.6,471.0 461.9,486.0 478.1,494.0 494.3,505.3" fill="none" stroke="#F7931E" stroke-width="1.6" stroke-linejoin="round"/>
<circle cx="56.6" cy="405.0" r="2.1" fill="#F7931E"/>
<circle cx="72.8" cy="372.0" r="2.1" fill="#F7931E"/>
<circle cx="89.0" cy="355.0" r="2.1" fill="#F7931E"/>
<circle cx="105.2" cy="366.0" r="2.1" fill="#F7931E"/>
<circle cx="137.7" cy="370.0" r="2.1" fill="#F7931E"/>
<circle cx="153.9" cy="352.0" r="2.1" fill="#F7931E"/>
<circle cx="170.1" cy="358.0" r="2.1" fill="#F7931E"/>
<circle cx="186.3" cy="374.0" r="2.1" fill="#F7931E"/>
<circle cx="202.5" cy="388.0" r="2.1" fill="#F7931E"/>
<circle cx="218.7" cy="396.0" r="2.1" fill="#F7931E"/>
<circle cx="234.9" cy="384.0" r="2.1" fill="#F7931E"/>
<circle cx="251.1" cy="380.0" r="2.1" fill="#F7931E"/>
<circle cx="267.3" cy="396.0" r="2.1" fill="#F7931E"/>
<circle cx="283.5" cy="402.0" r="2.1" fill="#F7931E"/>
<circle cx="299.8" cy="408.0" r="2.1" fill="#F7931E"/>
<circle cx="316.0" cy="412.0" r="2.1" fill="#F7931E"/>
<circle cx="332.2" cy="415.0" r="2.1" fill="#F7931E"/>
<circle cx="348.4" cy="390.0" r="2.1" fill="#F7931E"/>
<circle cx="364.6" cy="427.0" r="2.1" fill="#F7931E"/>
<circle cx="380.8" cy="437.0" r="2.1" fill="#F7931E"/>
<circle cx="397.0" cy="446.0" r="2.1" fill="#F7931E"/>
<circle cx="413.2" cy="457.0" r="2.1" fill="#F7931E"/>
<circle cx="429.4" cy="465.0" r="2.1" fill="#F7931E"/>
<circle cx="445.6" cy="471.0" r="2.1" fill="#F7931E"/>
<circle cx="461.9" cy="486.0" r="2.1" fill="#F7931E"/>
<circle cx="478.1" cy="494.0" r="2.1" fill="#F7931E"/>
<circle cx="494.3" cy="505.3" r="2.1" fill="#F7931E"/>
<polyline points="72.8,371.0 89.0,355.0 105.2,365.0" fill="none" stroke="#5B9BD5" stroke-width="1.6" stroke-linejoin="round"/>
<polyline points="137.7,359.7 153.9,335.4 170.1,355.5 186.3,370.8 202.5,388.0 218.7,401.5 234.9,397.1 251.1,380.1 267.3,403.8 283.5,410.8 299.8,415.6 316.0,412.8 332.2,417.5 348.4,391.9 364.6,432.0 380.8,436.2 397.0,442.0 413.2,445.3 429.4,454.9 445.6,450.0 461.9,456.0 478.1,467.8 494.3,467.9" fill="none" stroke="#5B9BD5" stroke-width="1.6" stroke-linejoin="round"/>
<circle cx="72.8" cy="371.0" r="2.1" fill="#5B9BD5"/>
<circle cx="89.0" cy="355.0" r="2.1" fill="#5B9BD5"/>
<circle cx="105.2" cy="365.0" r="2.1" fill="#5B9BD5"/>
<circle cx="137.7" cy="359.7" r="2.1" fill="#5B9BD5"/>
<circle cx="153.9" cy="335.4" r="2.1" fill="#5B9BD5"/>
<circle cx="170.1" cy="355.5" r="2.1" fill="#5B9BD5"/>
<circle cx="186.3" cy="370.8" r="2.1" fill="#5B9BD5"/>
<circle cx="202.5" cy="388.0" r="2.1" fill="#5B9BD5"/>
<circle cx="218.7" cy="401.5" r="2.1" fill="#5B9BD5"/>
<circle cx="234.9" cy="397.1" r="2.1" fill="#5B9BD5"/>
<circle cx="251.1" cy="380.1" r="2.1" fill="#5B9BD5"/>
<circle cx="267.3" cy="403.8" r="2.1" fill="#5B9BD5"/>
<circle cx="283.5" cy="410.8" r="2.1" fill="#5B9BD5"/>
<circle cx="299.8" cy="415.6" r="2.1" fill="#5B9BD5"/>
<circle cx="316.0" cy="412.8" r="2.1" fill="#5B9BD5"/>
<circle cx="332.2" cy="417.5" r="2.1" fill="#5B9BD5"/>
<circle cx="348.4" cy="391.9" r="2.1" fill="#5B9BD5"/>
<circle cx="364.6" cy="432.0" r="2.1" fill="#5B9BD5"/>
<circle cx="380.8" cy="436.2" r="2.1" fill="#5B9BD5"/>
<circle cx="397.0" cy="442.0" r="2.1" fill="#5B9BD5"/>
<circle cx="413.2" cy="445.3" r="2.1" fill="#5B9BD5"/>
<circle cx="429.4" cy="454.9" r="2.1" fill="#5B9BD5"/>
<circle cx="445.6" cy="450.0" r="2.1" fill="#5B9BD5"/>
<circle cx="461.9" cy="456.0" r="2.1" fill="#5B9BD5"/>
<circle cx="478.1" cy="467.8" r="2.1" fill="#5B9BD5"/>
<circle cx="494.3" cy="467.9" r="2.1" fill="#5B9BD5"/>
<polyline points="72.8,383.0 89.0,363.0 105.2,357.0" fill="none" stroke="#5B9BD5" stroke-width="1.6" stroke-linejoin="round"/>
<polyline points="137.7,361.7 153.9,346.9 170.1,354.1 186.3,363.2 202.5,375.4 218.7,394.1 234.9,395.5 251.1,368.2 267.3,395.8 283.5,401.6 299.8,414.1 316.0,406.1 332.2,414.8 348.4,385.0 364.6,431.0 380.8,431.0 397.0,440.0 413.2,443.7 429.4,444.7 445.6,449.0 461.9,454.0 478.1,462.0 494.3,464.0" fill="none" stroke="#5B9BD5" stroke-width="1.6" stroke-linejoin="round"/>
<circle cx="72.8" cy="383.0" r="2.1" fill="#5B9BD5"/>
<circle cx="89.0" cy="363.0" r="2.1" fill="#5B9BD5"/>
<circle cx="105.2" cy="357.0" r="2.1" fill="#5B9BD5"/>
<circle cx="137.7" cy="361.7" r="2.1" fill="#5B9BD5"/>
<circle cx="153.9" cy="346.9" r="2.1" fill="#5B9BD5"/>
<circle cx="170.1" cy="354.1" r="2.1" fill="#5B9BD5"/>
<circle cx="186.3" cy="363.2" r="2.1" fill="#5B9BD5"/>
<circle cx="202.5" cy="375.4" r="2.1" fill="#5B9BD5"/>
<circle cx="218.7" cy="394.1" r="2.1" fill="#5B9BD5"/>
<circle cx="234.9" cy="395.5" r="2.1" fill="#5B9BD5"/>
<circle cx="251.1" cy="368.2" r="2.1" fill="#5B9BD5"/>
<circle cx="267.3" cy="395.8" r="2.1" fill="#5B9BD5"/>
<circle cx="283.5" cy="401.6" r="2.1" fill="#5B9BD5"/>
<circle cx="299.8" cy="414.1" r="2.1" fill="#5B9BD5"/>
<circle cx="316.0" cy="406.1" r="2.1" fill="#5B9BD5"/>
<circle cx="332.2" cy="414.8" r="2.1" fill="#5B9BD5"/>
<circle cx="348.4" cy="385.0" r="2.1" fill="#5B9BD5"/>
<circle cx="364.6" cy="431.0" r="2.1" fill="#5B9BD5"/>
<circle cx="380.8" cy="431.0" r="2.1" fill="#5B9BD5"/>
<circle cx="397.0" cy="440.0" r="2.1" fill="#5B9BD5"/>
<circle cx="413.2" cy="443.7" r="2.1" fill="#5B9BD5"/>
<circle cx="429.4" cy="444.7" r="2.1" fill="#5B9BD5"/>
<circle cx="445.6" cy="449.0" r="2.1" fill="#5B9BD5"/>
<circle cx="461.9" cy="454.0" r="2.1" fill="#5B9BD5"/>
<circle cx="478.1" cy="462.0" r="2.1" fill="#5B9BD5"/>
<circle cx="494.3" cy="464.0" r="2.1" fill="#5B9BD5"/>
<polyline points="72.8,381.0 89.0,320.0 105.2,378.0" fill="none" stroke="#5B9BD5" stroke-width="1.6" stroke-linejoin="round"/>
<polyline points="137.7,364.0 153.9,356.2 170.1,367.9 186.3,374.4 202.5,384.7 218.7,400.4 234.9,401.6 251.1,383.4 267.3,408.1 283.5,411.3 299.8,423.7 316.0,420.1 332.2,420.0 348.4,390.3 364.6,433.0 380.8,439.5 397.0,442.0 413.2,449.8 429.4,457.9 445.6,452.0 461.9,457.0 478.1,473.4 494.3,475.4" fill="none" stroke="#5B9BD5" stroke-width="1.6" stroke-linejoin="round"/>
<circle cx="72.8" cy="381.0" r="2.1" fill="#5B9BD5"/>
<circle cx="89.0" cy="320.0" r="2.1" fill="#5B9BD5"/>
<circle cx="105.2" cy="378.0" r="2.1" fill="#5B9BD5"/>
<circle cx="137.7" cy="364.0" r="2.1" fill="#5B9BD5"/>
<circle cx="153.9" cy="356.2" r="2.1" fill="#5B9BD5"/>
<circle cx="170.1" cy="367.9" r="2.1" fill="#5B9BD5"/>
<circle cx="186.3" cy="374.4" r="2.1" fill="#5B9BD5"/>
<circle cx="202.5" cy="384.7" r="2.1" fill="#5B9BD5"/>
<circle cx="218.7" cy="400.4" r="2.1" fill="#5B9BD5"/>
<circle cx="234.9" cy="401.6" r="2.1" fill="#5B9BD5"/>
<circle cx="251.1" cy="383.4" r="2.1" fill="#5B9BD5"/>
<circle cx="267.3" cy="408.1" r="2.1" fill="#5B9BD5"/>
<circle cx="283.5" cy="411.3" r="2.1" fill="#5B9BD5"/>
<circle cx="299.8" cy="423.7" r="2.1" fill="#5B9BD5"/>
<circle cx="316.0" cy="420.1" r="2.1" fill="#5B9BD5"/>
<circle cx="332.2" cy="420.0" r="2.1" fill="#5B9BD5"/>
<circle cx="348.4" cy="390.3" r="2.1" fill="#5B9BD5"/>
<circle cx="364.6" cy="433.0" r="2.1" fill="#5B9BD5"/>
<circle cx="380.8" cy="439.5" r="2.1" fill="#5B9BD5"/>
<circle cx="397.0" cy="442.0" r="2.1" fill="#5B9BD5"/>
<circle cx="413.2" cy="449.8" r="2.1" fill="#5B9BD5"/>
<circle cx="429.4" cy="457.9" r="2.1" fill="#5B9BD5"/>
<circle cx="445.6" cy="452.0" r="2.1" fill="#5B9BD5"/>
<circle cx="461.9" cy="457.0" r="2.1" fill="#5B9BD5"/>
<circle cx="478.1" cy="473.4" r="2.1" fill="#5B9BD5"/>
<circle cx="494.3" cy="475.4" r="2.1" fill="#5B9BD5"/>
<polyline points="72.8,385.0 89.0,371.0 105.2,379.0" fill="none" stroke="#5B9BD5" stroke-width="1.6" stroke-linejoin="round"/>
<polyline points="137.7,363.8 153.9,354.7 170.1,360.6 186.3,364.5 202.5,380.0 218.7,400.8 234.9,399.5 251.1,372.7 267.3,398.5 283.5,403.6 299.8,412.4 316.0,411.8 332.2,415.1 348.4,388.4 364.6,432.0 380.8,432.7 397.0,441.0 413.2,444.1 429.4,450.4 445.6,451.0 461.9,455.0 478.1,469.8 494.3,474.9" fill="none" stroke="#5B9BD5" stroke-width="1.6" stroke-linejoin="round"/>
<circle cx="72.8" cy="385.0" r="2.1" fill="#5B9BD5"/>
<circle cx="89.0" cy="371.0" r="2.1" fill="#5B9BD5"/>
<circle cx="105.2" cy="379.0" r="2.1" fill="#5B9BD5"/>
<circle cx="137.7" cy="363.8" r="2.1" fill="#5B9BD5"/>
<circle cx="153.9" cy="354.7" r="2.1" fill="#5B9BD5"/>
<circle cx="170.1" cy="360.6" r="2.1" fill="#5B9BD5"/>
<circle cx="186.3" cy="364.5" r="2.1" fill="#5B9BD5"/>
<circle cx="202.5" cy="380.0" r="2.1" fill="#5B9BD5"/>
<circle cx="218.7" cy="400.8" r="2.1" fill="#5B9BD5"/>
<circle cx="234.9" cy="399.5" r="2.1" fill="#5B9BD5"/>
<circle cx="251.1" cy="372.7" r="2.1" fill="#5B9BD5"/>
<circle cx="267.3" cy="398.5" r="2.1" fill="#5B9BD5"/>
<circle cx="283.5" cy="403.6" r="2.1" fill="#5B9BD5"/>
<circle cx="299.8" cy="412.4" r="2.1" fill="#5B9BD5"/>
<circle cx="316.0" cy="411.8" r="2.1" fill="#5B9BD5"/>
<circle cx="332.2" cy="415.1" r="2.1" fill="#5B9BD5"/>
<circle cx="348.4" cy="388.4" r="2.1" fill="#5B9BD5"/>
<circle cx="364.6" cy="432.0" r="2.1" fill="#5B9BD5"/>
<circle cx="380.8" cy="432.7" r="2.1" fill="#5B9BD5"/>
<circle cx="397.0" cy="441.0" r="2.1" fill="#5B9BD5"/>
<circle cx="413.2" cy="444.1" r="2.1" fill="#5B9BD5"/>
<circle cx="429.4" cy="450.4" r="2.1" fill="#5B9BD5"/>
<circle cx="445.6" cy="451.0" r="2.1" fill="#5B9BD5"/>
<circle cx="461.9" cy="455.0" r="2.1" fill="#5B9BD5"/>
<circle cx="478.1" cy="469.8" r="2.1" fill="#5B9BD5"/>
<circle cx="494.3" cy="474.9" r="2.1" fill="#5B9BD5"/>
<polyline points="72.8,390.0 89.0,377.0 105.2,377.0" fill="none" stroke="#5B9BD5" stroke-width="1.6" stroke-linejoin="round"/>
<polyline points="137.7,361.7 153.9,357.5 170.1,370.3 186.3,377.6 202.5,386.8 218.7,406.8 234.9,399.8 251.1,389.3 267.3,407.3 283.5,414.4 299.8,426.1 316.0,422.9 332.2,423.6 348.4,397.9 364.6,434.0 380.8,437.3 397.0,443.0 413.2,450.5 429.4,459.6 445.6,453.0 461.9,458.0 478.1,476.0 494.3,480.8" fill="none" stroke="#5B9BD5" stroke-width="1.6" stroke-linejoin="round"/>
<circle cx="72.8" cy="390.0" r="2.1" fill="#5B9BD5"/>
<circle cx="89.0" cy="377.0" r="2.1" fill="#5B9BD5"/>
<circle cx="105.2" cy="377.0" r="2.1" fill="#5B9BD5"/>
<circle cx="137.7" cy="361.7" r="2.1" fill="#5B9BD5"/>
<circle cx="153.9" cy="357.5" r="2.1" fill="#5B9BD5"/>
<circle cx="170.1" cy="370.3" r="2.1" fill="#5B9BD5"/>
<circle cx="186.3" cy="377.6" r="2.1" fill="#5B9BD5"/>
<circle cx="202.5" cy="386.8" r="2.1" fill="#5B9BD5"/>
<circle cx="218.7" cy="406.8" r="2.1" fill="#5B9BD5"/>
<circle cx="234.9" cy="399.8" r="2.1" fill="#5B9BD5"/>
<circle cx="251.1" cy="389.3" r="2.1" fill="#5B9BD5"/>
<circle cx="267.3" cy="407.3" r="2.1" fill="#5B9BD5"/>
<circle cx="283.5" cy="414.4" r="2.1" fill="#5B9BD5"/>
<circle cx="299.8" cy="426.1" r="2.1" fill="#5B9BD5"/>
<circle cx="316.0" cy="422.9" r="2.1" fill="#5B9BD5"/>
<circle cx="332.2" cy="423.6" r="2.1" fill="#5B9BD5"/>
<circle cx="348.4" cy="397.9" r="2.1" fill="#5B9BD5"/>
<circle cx="364.6" cy="434.0" r="2.1" fill="#5B9BD5"/>
<circle cx="380.8" cy="437.3" r="2.1" fill="#5B9BD5"/>
<circle cx="397.0" cy="443.0" r="2.1" fill="#5B9BD5"/>
<circle cx="413.2" cy="450.5" r="2.1" fill="#5B9BD5"/>
<circle cx="429.4" cy="459.6" r="2.1" fill="#5B9BD5"/>
<circle cx="445.6" cy="453.0" r="2.1" fill="#5B9BD5"/>
<circle cx="461.9" cy="458.0" r="2.1" fill="#5B9BD5"/>
<circle cx="478.1" cy="476.0" r="2.1" fill="#5B9BD5"/>
<circle cx="494.3" cy="480.8" r="2.1" fill="#5B9BD5"/>
<polyline points="72.8,394.0 89.0,378.0 105.2,393.0" fill="none" stroke="#5B9BD5" stroke-width="1.6" stroke-linejoin="round"/>
<polyline points="137.7,363.4 153.9,358.5 170.1,375.5 186.3,380.5 202.5,393.6 218.7,406.2 234.9,402.7 251.1,392.8 267.3,411.9 283.5,419.4 299.8,429.2 316.0,423.1 332.2,426.9 348.4,400.5 364.6,434.0 380.8,442.9 397.0,443.0 413.2,453.5 429.4,460.1 445.6,454.0 461.9,459.0 478.1,481.4 494.3,488.6" fill="none" stroke="#5B9BD5" stroke-width="1.6" stroke-linejoin="round"/>
<circle cx="72.8" cy="394.0" r="2.1" fill="#5B9BD5"/>
<circle cx="89.0" cy="378.0" r="2.1" fill="#5B9BD5"/>
<circle cx="105.2" cy="393.0" r="2.1" fill="#5B9BD5"/>
<circle cx="137.7" cy="363.4" r="2.1" fill="#5B9BD5"/>
<circle cx="153.9" cy="358.5" r="2.1" fill="#5B9BD5"/>
<circle cx="170.1" cy="375.5" r="2.1" fill="#5B9BD5"/>
<circle cx="186.3" cy="380.5" r="2.1" fill="#5B9BD5"/>
<circle cx="202.5" cy="393.6" r="2.1" fill="#5B9BD5"/>
<circle cx="218.7" cy="406.2" r="2.1" fill="#5B9BD5"/>
<circle cx="234.9" cy="402.7" r="2.1" fill="#5B9BD5"/>
<circle cx="251.1" cy="392.8" r="2.1" fill="#5B9BD5"/>
<circle cx="267.3" cy="411.9" r="2.1" fill="#5B9BD5"/>
<circle cx="283.5" cy="419.4" r="2.1" fill="#5B9BD5"/>
<circle cx="299.8" cy="429.2" r="2.1" fill="#5B9BD5"/>
<circle cx="316.0" cy="423.1" r="2.1" fill="#5B9BD5"/>
<circle cx="332.2" cy="426.9" r="2.1" fill="#5B9BD5"/>
<circle cx="348.4" cy="400.5" r="2.1" fill="#5B9BD5"/>
<circle cx="364.6" cy="434.0" r="2.1" fill="#5B9BD5"/>
<circle cx="380.8" cy="442.9" r="2.1" fill="#5B9BD5"/>
<circle cx="397.0" cy="443.0" r="2.1" fill="#5B9BD5"/>
<circle cx="413.2" cy="453.5" r="2.1" fill="#5B9BD5"/>
<circle cx="429.4" cy="460.1" r="2.1" fill="#5B9BD5"/>
<circle cx="445.6" cy="454.0" r="2.1" fill="#5B9BD5"/>
<circle cx="461.9" cy="459.0" r="2.1" fill="#5B9BD5"/>
<circle cx="478.1" cy="481.4" r="2.1" fill="#5B9BD5"/>
<circle cx="494.3" cy="488.6" r="2.1" fill="#5B9BD5"/>
<polyline points="72.8,402.0 89.0,387.0 105.2,400.0" fill="none" stroke="#5B9BD5" stroke-width="1.6" stroke-linejoin="round"/>
<polyline points="137.7,366.2 153.9,366.7 170.1,379.3 186.3,384.6 202.5,395.5 218.7,406.6 234.9,401.2 251.1,395.8 267.3,413.4 283.5,423.2 299.8,427.5 316.0,429.9 332.2,432.6 348.4,400.8 364.6,435.0 380.8,440.1 397.0,444.0 413.2,458.3 429.4,467.4 445.6,455.0 461.9,460.0 478.1,480.4 494.3,489.4" fill="none" stroke="#5B9BD5" stroke-width="1.6" stroke-linejoin="round"/>
<circle cx="72.8" cy="402.0" r="2.1" fill="#5B9BD5"/>
<circle cx="89.0" cy="387.0" r="2.1" fill="#5B9BD5"/>
<circle cx="105.2" cy="400.0" r="2.1" fill="#5B9BD5"/>
<circle cx="137.7" cy="366.2" r="2.1" fill="#5B9BD5"/>
<circle cx="153.9" cy="366.7" r="2.1" fill="#5B9BD5"/>
<circle cx="170.1" cy="379.3" r="2.1" fill="#5B9BD5"/>
<circle cx="186.3" cy="384.6" r="2.1" fill="#5B9BD5"/>
<circle cx="202.5" cy="395.5" r="2.1" fill="#5B9BD5"/>
<circle cx="218.7" cy="406.6" r="2.1" fill="#5B9BD5"/>
<circle cx="234.9" cy="401.2" r="2.1" fill="#5B9BD5"/>
<circle cx="251.1" cy="395.8" r="2.1" fill="#5B9BD5"/>
<circle cx="267.3" cy="413.4" r="2.1" fill="#5B9BD5"/>
<circle cx="283.5" cy="423.2" r="2.1" fill="#5B9BD5"/>
<circle cx="299.8" cy="427.5" r="2.1" fill="#5B9BD5"/>
<circle cx="316.0" cy="429.9" r="2.1" fill="#5B9BD5"/>
<circle cx="332.2" cy="432.6" r="2.1" fill="#5B9BD5"/>
<circle cx="348.4" cy="400.8" r="2.1" fill="#5B9BD5"/>
<circle cx="364.6" cy="435.0" r="2.1" fill="#5B9BD5"/>
<circle cx="380.8" cy="440.1" r="2.1" fill="#5B9BD5"/>
<circle cx="397.0" cy="444.0" r="2.1" fill="#5B9BD5"/>
<circle cx="413.2" cy="458.3" r="2.1" fill="#5B9BD5"/>
<circle cx="429.4" cy="467.4" r="2.1" fill="#5B9BD5"/>
<circle cx="445.6" cy="455.0" r="2.1" fill="#5B9BD5"/>
<circle cx="461.9" cy="460.0" r="2.1" fill="#5B9BD5"/>
<circle cx="478.1" cy="480.4" r="2.1" fill="#5B9BD5"/>
<circle cx="494.3" cy="489.4" r="2.1" fill="#5B9BD5"/>
<rect x="298.2" y="22.9" width="6.6" height="6.6" fill="#FFC000"/><rect x="298.2" y="40.2" width="6.6" height="6.6" fill="#70AD47"/><rect x="298.2" y="57.5" width="6.6" height="6.6" fill="#A5A5A5"/><path d="M301.5 74.80000000000001L304.8 78.10000000000001L301.5 81.4L298.2 78.10000000000001Z" fill="#ED7D31"/><circle cx="301.5" cy="95.4" r="3.2" fill="#5B9BD5"/><circle cx="279.7" cy="282" r="3.2" fill="#F7931E"/><circle cx="279.7" cy="298.3" r="3.2" fill="#5B9BD5"/>
<text x="40.3" y="12.600000000000001" font-size="11.8" text-anchor="end" >1000</text><text x="40.3" y="96.38333333333331" font-size="11.8" text-anchor="end" >100</text><text x="40.3" y="180.16666666666666" font-size="11.8" text-anchor="end" >10</text><text x="40.3" y="263.95" font-size="11.8" text-anchor="end" >1</text><text x="40.3" y="349.3333333333333" font-size="11.8" text-anchor="end" >100</text><text x="40.3" y="434.71666666666664" font-size="11.8" text-anchor="end" >10</text><text x="40.3" y="520.0999999999999" font-size="11.8" text-anchor="end" >1</text><text x="68.5" y="29" font-size="10.6" text-anchor="start" >(a)</text><text x="68.5" y="285" font-size="10.6" text-anchor="start" >(b)</text><text x="0" y="0" font-size="11.75" text-anchor="middle" transform="translate(16.8,137.4) rotate(-90)">PM normalised concentrations</text><text x="0" y="0" font-size="11.75" text-anchor="middle" transform="translate(16.8,392.7) rotate(-90)">PM normalised concentrations</text><text x="56.61" y="529.1" font-size="11.5" text-anchor="middle" >Cs</text><text x="72.81" y="529.1" font-size="11.5" text-anchor="middle" >Rb</text><text x="89.03" y="529.1" font-size="11.5" text-anchor="middle" >Ba</text><text x="105.23" y="529.1" font-size="11.5" text-anchor="middle" >Th</text><text x="121.45" y="529.1" font-size="11.5" text-anchor="middle" >W</text><text x="137.66" y="529.1" font-size="11.5" text-anchor="middle" >U</text><text x="153.87" y="529.1" font-size="11.5" text-anchor="middle" >K</text><text x="170.07" y="529.1" font-size="11.5" text-anchor="middle" >Nb</text><text x="186.28" y="529.1" font-size="11.5" text-anchor="middle" >La</text><text x="202.5" y="529.1" font-size="11.5" text-anchor="middle" >Ce</text><text x="218.71" y="529.1" font-size="11.5" text-anchor="middle" >Pb</text><text x="234.92" y="529.1" font-size="11.5" text-anchor="middle" >Pr</text><text x="251.12" y="529.1" font-size="11.5" text-anchor="middle" >Sr</text><text x="267.34" y="529.1" font-size="11.5" text-anchor="middle" >Nd</text><text x="283.55" y="529.1" font-size="11.5" text-anchor="middle" >Zr</text><text x="299.75" y="529.1" font-size="11.5" text-anchor="middle" >Hf</text><text x="315.97" y="529.1" font-size="11.5" text-anchor="middle" >Sm</text><text x="332.18" y="529.1" font-size="11.5" text-anchor="middle" >Eu</text><text x="348.38" y="529.1" font-size="11.5" text-anchor="middle" >Ti</text><text x="364.6" y="529.1" font-size="11.5" text-anchor="middle" >Gd</text><text x="380.81" y="529.1" font-size="11.5" text-anchor="middle" >Tb</text><text x="397.02" y="529.1" font-size="11.5" text-anchor="middle" >Dy</text><text x="413.23" y="529.1" font-size="11.5" text-anchor="middle" >Ho</text><text x="429.44" y="529.1" font-size="11.5" text-anchor="middle" >Y</text><text x="445.65" y="529.1" font-size="11.5" text-anchor="middle" >Er</text><text x="461.86" y="529.1" font-size="11.5" text-anchor="middle" >Tm</text><text x="478.06" y="529.1" font-size="11.5" text-anchor="middle" >Yb</text><text x="494.28" y="529.1" font-size="11.5" text-anchor="middle" >Lu</text><text x="259" y="542.6" font-size="11.4" text-anchor="middle" >Element</text><text x="308.3" y="29.599999999999998" font-size="10.3" text-anchor="start"  textLength="122.3" lengthAdjust="spacingAndGlyphs">Wedepohl (1995) - terrains</text><text x="308.3" y="46.9" font-size="10.3" text-anchor="start"  textLength="131.3" lengthAdjust="spacingAndGlyphs">Hacker et al. (2015) - terrains</text><text x="308.3" y="64.2" font-size="10.3" text-anchor="start"  textLength="130.0" lengthAdjust="spacingAndGlyphs">Huang et al. (2013) - terrains</text><text x="308.3" y="81.50000000000001" font-size="10.3" text-anchor="start"  textLength="138.0" lengthAdjust="spacingAndGlyphs">Huang et al. (2013) - xenoliths</text><text x="308.3" y="98.80000000000001" font-size="10.3" text-anchor="start"  textLength="174.6" lengthAdjust="spacingAndGlyphs">Rudnick &amp; Fountain (1995) - terrains &amp;</text><text x="308.3" y="112.0" font-size="10.3" text-anchor="start"  textLength="42.4" lengthAdjust="spacingAndGlyphs">xenoliths</text><text x="286.7" y="285.5" font-size="10.1" text-anchor="start"  textLength="192" lengthAdjust="spacingAndGlyphs">Hannuoba alkali basalts (Qian et al., 2015)</text><text x="286.7" y="301.8" font-size="10.0" text-anchor="start"  textLength="203.1" lengthAdjust="spacingAndGlyphs">Queensland alkali basalts (Jones et al., 2020)</text>
</svg></body></html>
